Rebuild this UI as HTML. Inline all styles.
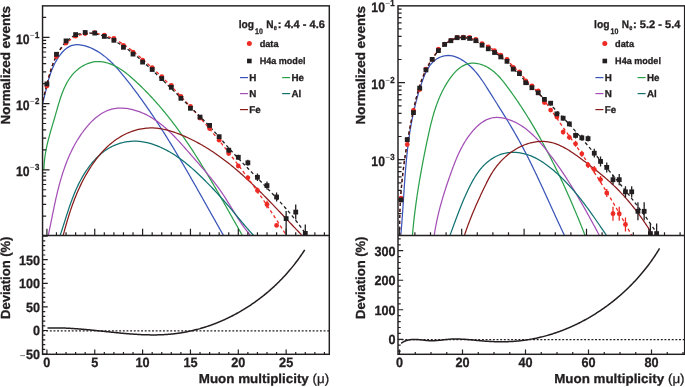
<!DOCTYPE html>
<html><head><meta charset="utf-8"><title>Muon multiplicity</title>
<style>
html,body{margin:0;padding:0;background:#fff;}
svg{display:block;text-rendering:geometricPrecision;font-family:"Liberation Sans",sans-serif;font-weight:bold;fill:#231f20;}
text{stroke:#231f20;stroke-width:0.3px;}
text.mn{stroke:none;font-weight:normal;fill:#4a4647;}
</style></head><body>
<svg width="685" height="387" viewBox="0 0 685 387">
<rect width="685" height="387" fill="#fff"/>
<clipPath id="cuL"><rect x="42.55" y="5.85" width="286.75" height="229.71"/></clipPath>
<g clip-path="url(#cuL)">
<path d="M42.60,103.51 L43.04,101.88 L43.47,100.26 L43.88,98.65 L44.28,97.06 L44.66,95.47 L45.04,93.90 L45.41,92.34 L45.78,90.79 L46.14,89.25 L46.51,87.72 L46.88,86.19 L47.26,84.68 L47.64,83.17 L48.04,81.67 L48.44,80.17 L48.87,78.68 L49.31,77.20 L49.77,75.72 L50.26,74.25 L50.77,72.78 L51.31,71.31 L51.88,69.85 L52.48,68.39 L53.12,66.93 L53.79,65.47 L54.50,64.02 L55.26,62.56 L56.06,61.11 L56.91,59.65 L57.81,58.21 L58.75,56.78 L59.74,55.39 L60.77,54.03 L61.85,52.73 L62.98,51.48 L64.15,50.32 L65.36,49.23 L66.61,48.24 L67.91,47.36 L69.25,46.59 L70.63,45.95 L72.05,45.44 L73.51,45.08 L74.99,44.84 L76.51,44.72 L78.05,44.72 L79.60,44.82 L81.16,45.02 L82.72,45.31 L84.29,45.67 L85.85,46.11 L87.39,46.62 L88.92,47.18 L90.42,47.78 L91.90,48.43 L93.35,49.12 L94.77,49.85 L96.17,50.61 L97.54,51.41 L98.89,52.24 L100.22,53.10 L101.52,54.00 L102.80,54.93 L104.06,55.88 L105.31,56.87 L106.53,57.88 L107.73,58.91 L108.92,59.97 L110.08,61.05 L111.24,62.16 L112.37,63.28 L113.50,64.42 L114.60,65.58 L115.70,66.75 L116.78,67.94 L117.86,69.15 L118.92,70.36 L119.97,71.59 L121.01,72.82 L122.05,74.07 L123.07,75.32 L124.09,76.57 L125.11,77.83 L126.11,79.10 L127.12,80.37 L128.12,81.64 L129.11,82.91 L130.10,84.18 L131.09,85.46 L132.07,86.74 L133.05,88.02 L134.02,89.30 L134.99,90.59 L135.95,91.88 L136.91,93.17 L137.87,94.46 L138.82,95.76 L139.76,97.06 L140.71,98.36 L141.65,99.66 L142.58,100.96 L143.51,102.27 L144.44,103.58 L145.36,104.89 L146.28,106.20 L147.20,107.52 L148.11,108.83 L149.02,110.15 L149.93,111.47 L150.83,112.80 L151.73,114.12 L152.62,115.45 L153.52,116.77 L154.40,118.10 L155.29,119.44 L156.17,120.77 L157.05,122.11 L157.93,123.44 L158.80,124.78 L159.67,126.12 L160.54,127.47 L161.40,128.81 L162.26,130.16 L163.12,131.50 L163.98,132.85 L164.83,134.20 L165.68,135.55 L166.53,136.91 L167.38,138.26 L168.22,139.62 L169.06,140.98 L169.90,142.34 L170.74,143.70 L171.57,145.06 L172.40,146.42 L173.23,147.79 L174.06,149.15 L174.88,150.52 L175.71,151.89 L176.53,153.26 L177.35,154.63 L178.17,156.00 L178.98,157.37 L179.80,158.75 L180.61,160.12 L181.42,161.50 L182.23,162.87 L183.04,164.25 L183.85,165.63 L184.65,167.01 L185.45,168.39 L186.26,169.78 L187.06,171.16 L187.86,172.54 L188.66,173.93 L189.45,175.31 L190.25,176.70 L191.05,178.09 L191.84,179.47 L192.63,180.86 L193.43,182.25 L194.22,183.64 L195.01,185.03 L195.80,186.42 L196.59,187.81 L197.38,189.21 L198.17,190.60 L198.96,191.99 L199.74,193.39 L200.53,194.78 L201.32,196.17 L202.10,197.57 L202.89,198.96 L203.68,200.36 L204.46,201.76 L205.25,203.15 L206.03,204.55 L206.82,205.95 L207.60,207.34 L208.39,208.74 L209.18,210.14 L209.96,211.54 L210.75,212.94 L211.54,214.33 L212.32,215.73 L213.11,217.13 L213.90,218.53 L214.69,219.93 L215.48,221.33 L216.27,222.72 L217.06,224.12 L217.85,225.52 L218.64,226.92 L219.43,228.32 L220.23,229.72 L221.02,231.11 L221.82,232.51 L222.61,233.91 L223.41,235.30" fill="none" stroke="#3a55b8" stroke-width="1.25"/>
<path d="M43.90,169.86 L43.96,167.93 L44.05,166.02 L44.17,164.14 L44.32,162.27 L44.50,160.42 L44.70,158.59 L44.94,156.78 L45.19,154.98 L45.48,153.20 L45.78,151.42 L46.11,149.67 L46.46,147.92 L46.83,146.18 L47.21,144.45 L47.61,142.72 L48.03,141.01 L48.46,139.29 L48.91,137.59 L49.37,135.88 L49.84,134.18 L50.32,132.47 L50.81,130.77 L51.30,129.06 L51.80,127.35 L52.31,125.63 L52.82,123.91 L53.33,122.18 L53.85,120.45 L54.36,118.70 L54.88,116.95 L55.39,115.18 L55.90,113.41 L56.41,111.62 L56.92,109.82 L57.43,108.02 L57.95,106.21 L58.48,104.41 L59.02,102.61 L59.57,100.81 L60.15,99.02 L60.73,97.23 L61.35,95.46 L61.98,93.71 L62.64,91.97 L63.33,90.25 L64.06,88.56 L64.81,86.89 L65.61,85.24 L66.44,83.63 L67.31,82.04 L68.23,80.50 L69.20,78.98 L70.21,77.51 L71.28,76.08 L72.40,74.70 L73.58,73.36 L74.81,72.07 L76.11,70.84 L77.47,69.66 L78.88,68.54 L80.35,67.49 L81.87,66.50 L83.43,65.59 L85.03,64.76 L86.67,64.02 L88.33,63.36 L90.03,62.80 L91.75,62.33 L93.49,61.97 L95.24,61.72 L97.01,61.58 L98.78,61.56 L100.56,61.65 L102.33,61.85 L104.10,62.15 L105.85,62.54 L107.59,63.02 L109.30,63.57 L111.00,64.20 L112.66,64.90 L114.29,65.65 L115.90,66.46 L117.49,67.33 L119.05,68.25 L120.58,69.21 L122.10,70.22 L123.59,71.27 L125.07,72.35 L126.53,73.47 L127.97,74.62 L129.39,75.80 L130.80,77.00 L132.19,78.21 L133.57,79.45 L134.94,80.70 L136.30,81.95 L137.65,83.21 L138.98,84.48 L140.31,85.76 L141.63,87.04 L142.94,88.34 L144.24,89.63 L145.53,90.94 L146.81,92.25 L148.08,93.56 L149.34,94.89 L150.59,96.22 L151.84,97.55 L153.07,98.90 L154.30,100.24 L155.52,101.60 L156.73,102.96 L157.93,104.33 L159.12,105.70 L160.31,107.08 L161.48,108.46 L162.65,109.85 L163.81,111.24 L164.97,112.64 L166.11,114.05 L167.25,115.46 L168.38,116.88 L169.51,118.30 L170.63,119.72 L171.74,121.16 L172.84,122.59 L173.94,124.03 L175.03,125.48 L176.11,126.93 L177.18,128.38 L178.26,129.84 L179.32,131.30 L180.38,132.77 L181.43,134.24 L182.48,135.72 L183.52,137.20 L184.55,138.69 L185.58,140.17 L186.60,141.67 L187.62,143.16 L188.64,144.66 L189.64,146.17 L190.65,147.67 L191.65,149.18 L192.64,150.70 L193.63,152.21 L194.61,153.73 L195.59,155.26 L196.57,156.78 L197.54,158.31 L198.51,159.85 L199.47,161.38 L200.43,162.92 L201.38,164.46 L202.33,166.00 L203.28,167.55 L204.23,169.10 L205.17,170.65 L206.11,172.20 L207.04,173.76 L207.98,175.31 L208.90,176.87 L209.83,178.43 L210.75,180.00 L211.68,181.56 L212.60,183.13 L213.51,184.70 L214.43,186.27 L215.34,187.84 L216.25,189.41 L217.16,190.99 L218.06,192.56 L218.97,194.14 L219.87,195.72 L220.77,197.30 L221.67,198.88 L222.57,200.46 L223.47,202.04 L224.37,203.62 L225.27,205.20 L226.16,206.79 L227.06,208.37 L227.95,209.96 L228.84,211.54 L229.74,213.13 L230.63,214.71 L231.52,216.30 L232.42,217.88 L233.31,219.47 L234.21,221.05 L235.10,222.64 L235.99,224.22 L236.89,225.81 L237.78,227.39 L238.68,228.98 L239.58,230.56 L240.48,232.14 L241.38,233.72 L242.28,235.30" fill="none" stroke="#2ba04a" stroke-width="1.25"/>
<path d="M48.31,235.30 L48.66,233.64 L49.01,231.97 L49.36,230.30 L49.70,228.63 L50.04,226.96 L50.38,225.28 L50.72,223.59 L51.06,221.91 L51.40,220.22 L51.74,218.54 L52.08,216.85 L52.42,215.15 L52.76,213.46 L53.11,211.77 L53.46,210.07 L53.81,208.38 L54.16,206.68 L54.52,204.99 L54.89,203.29 L55.25,201.60 L55.63,199.90 L56.01,198.21 L56.39,196.52 L56.79,194.83 L57.19,193.14 L57.59,191.46 L58.01,189.77 L58.43,188.09 L58.87,186.41 L59.31,184.74 L59.76,183.07 L60.23,181.40 L60.70,179.73 L61.19,178.07 L61.69,176.41 L62.20,174.76 L62.72,173.11 L63.25,171.47 L63.80,169.83 L64.37,168.20 L64.94,166.58 L65.54,164.96 L66.15,163.34 L66.77,161.73 L67.41,160.13 L68.07,158.54 L68.74,156.95 L69.44,155.37 L70.15,153.80 L70.88,152.24 L71.63,150.69 L72.39,149.14 L73.18,147.60 L73.99,146.07 L74.82,144.55 L75.67,143.04 L76.54,141.54 L77.44,140.05 L78.36,138.57 L79.30,137.10 L80.26,135.64 L81.25,134.19 L82.27,132.75 L83.31,131.33 L84.37,129.92 L85.46,128.52 L86.57,127.15 L87.72,125.79 L88.88,124.46 L90.07,123.17 L91.29,121.90 L92.53,120.67 L93.80,119.48 L95.10,118.33 L96.42,117.22 L97.77,116.16 L99.15,115.15 L100.55,114.20 L101.98,113.30 L103.43,112.47 L104.92,111.69 L106.42,110.99 L107.96,110.35 L109.52,109.78 L111.11,109.29 L112.73,108.88 L114.38,108.55 L116.05,108.31 L117.75,108.15 L119.47,108.07 L121.20,108.06 L122.94,108.13 L124.69,108.27 L126.44,108.47 L128.18,108.73 L129.91,109.04 L131.63,109.41 L133.34,109.83 L135.02,110.29 L136.67,110.79 L138.31,111.34 L139.92,111.93 L141.51,112.56 L143.09,113.23 L144.64,113.94 L146.17,114.68 L147.68,115.46 L149.18,116.28 L150.66,117.13 L152.12,118.01 L153.56,118.92 L154.98,119.86 L156.39,120.83 L157.79,121.83 L159.16,122.85 L160.53,123.90 L161.88,124.98 L163.21,126.08 L164.53,127.20 L165.84,128.34 L167.14,129.50 L168.42,130.68 L169.70,131.87 L170.96,133.09 L172.21,134.31 L173.45,135.56 L174.68,136.81 L175.90,138.08 L177.12,139.36 L178.32,140.64 L179.52,141.94 L180.71,143.24 L181.90,144.55 L183.07,145.86 L184.25,147.18 L185.41,148.50 L186.57,149.82 L187.73,151.14 L188.88,152.46 L190.03,153.78 L191.18,155.09 L192.33,156.41 L193.47,157.71 L194.61,159.01 L195.74,160.31 L196.88,161.61 L198.01,162.90 L199.14,164.19 L200.26,165.48 L201.38,166.77 L202.49,168.06 L203.60,169.35 L204.71,170.64 L205.81,171.93 L206.90,173.23 L207.99,174.53 L209.07,175.84 L210.15,177.15 L211.21,178.47 L212.28,179.79 L213.33,181.12 L214.38,182.46 L215.41,183.81 L216.44,185.16 L217.46,186.53 L218.48,187.91 L219.48,189.29 L220.47,190.70 L221.46,192.11 L222.43,193.54 L223.39,194.98 L224.35,196.43 L225.29,197.90 L226.23,199.37 L227.16,200.85 L228.09,202.34 L229.02,203.84 L229.94,205.34 L230.86,206.84 L231.77,208.34 L232.69,209.85 L233.61,211.35 L234.54,212.85 L235.46,214.35 L236.39,215.83 L237.33,217.32 L238.27,218.79 L239.22,220.26 L240.18,221.71 L241.15,223.15 L242.13,224.57 L243.12,225.98 L244.13,227.38 L245.15,228.75 L246.18,230.11 L247.23,231.44 L248.30,232.76 L249.39,234.04 L250.49,235.31" fill="none" stroke="#a44fb6" stroke-width="1.25"/>
<path d="M60.20,235.32 L60.64,233.98 L61.09,232.64 L61.53,231.30 L61.96,229.95 L62.40,228.60 L62.83,227.25 L63.26,225.90 L63.69,224.55 L64.12,223.19 L64.55,221.84 L64.98,220.48 L65.41,219.12 L65.84,217.76 L66.27,216.40 L66.71,215.05 L67.14,213.69 L67.58,212.33 L68.03,210.97 L68.48,209.61 L68.93,208.26 L69.39,206.91 L69.86,205.55 L70.33,204.20 L70.81,202.85 L71.29,201.51 L71.79,200.16 L72.29,198.82 L72.80,197.48 L73.32,196.15 L73.85,194.82 L74.39,193.49 L74.94,192.16 L75.50,190.84 L76.07,189.53 L76.66,188.22 L77.26,186.91 L77.87,185.61 L78.49,184.31 L79.13,183.02 L79.79,181.73 L80.46,180.45 L81.14,179.18 L81.85,177.91 L82.56,176.65 L83.30,175.40 L84.05,174.15 L84.83,172.91 L85.62,171.68 L86.42,170.46 L87.25,169.25 L88.09,168.05 L88.96,166.86 L89.84,165.69 L90.73,164.53 L91.65,163.39 L92.58,162.27 L93.54,161.17 L94.51,160.08 L95.50,159.01 L96.50,157.97 L97.53,156.95 L98.57,155.95 L99.63,154.98 L100.71,154.03 L101.81,153.11 L102.93,152.22 L104.06,151.36 L105.21,150.53 L106.38,149.73 L107.57,148.96 L108.78,148.22 L110.00,147.52 L111.24,146.86 L112.50,146.23 L113.78,145.64 L115.07,145.08 L116.38,144.56 L117.70,144.08 L119.04,143.63 L120.38,143.22 L121.74,142.85 L123.11,142.51 L124.48,142.22 L125.87,141.96 L127.26,141.73 L128.66,141.55 L130.06,141.40 L131.47,141.29 L132.88,141.22 L134.29,141.19 L135.70,141.19 L137.11,141.23 L138.52,141.32 L139.94,141.44 L141.34,141.59 L142.75,141.79 L144.15,142.03 L145.54,142.29 L146.94,142.60 L148.32,142.93 L149.70,143.30 L151.08,143.70 L152.44,144.13 L153.80,144.58 L155.15,145.06 L156.50,145.57 L157.83,146.10 L159.16,146.65 L160.48,147.23 L161.79,147.82 L163.08,148.44 L164.37,149.07 L165.65,149.72 L166.91,150.39 L168.17,151.08 L169.42,151.79 L170.66,152.51 L171.89,153.25 L173.11,154.01 L174.33,154.78 L175.53,155.57 L176.73,156.37 L177.92,157.18 L179.09,158.01 L180.27,158.85 L181.43,159.71 L182.58,160.57 L183.73,161.45 L184.87,162.34 L186.00,163.24 L187.13,164.15 L188.24,165.08 L189.35,166.01 L190.46,166.95 L191.55,167.90 L192.64,168.85 L193.73,169.82 L194.80,170.79 L195.87,171.77 L196.94,172.75 L197.99,173.74 L199.05,174.74 L200.09,175.74 L201.13,176.74 L202.17,177.75 L203.20,178.76 L204.22,179.78 L205.24,180.80 L206.25,181.82 L207.26,182.84 L208.26,183.86 L209.26,184.89 L210.26,185.91 L211.25,186.94 L212.23,187.97 L213.21,189.00 L214.19,190.03 L215.16,191.06 L216.13,192.10 L217.09,193.14 L218.05,194.18 L219.01,195.23 L219.96,196.28 L220.90,197.33 L221.85,198.38 L222.79,199.44 L223.72,200.51 L224.66,201.57 L225.59,202.64 L226.51,203.72 L227.44,204.79 L228.36,205.87 L229.28,206.95 L230.20,208.04 L231.11,209.13 L232.03,210.22 L232.94,211.31 L233.86,212.41 L234.77,213.50 L235.68,214.60 L236.60,215.70 L237.51,216.80 L238.43,217.90 L239.35,219.00 L240.26,220.11 L241.18,221.21 L242.11,222.31 L243.03,223.41 L243.96,224.51 L244.90,225.60 L245.83,226.70 L246.77,227.79 L247.72,228.88 L248.66,229.97 L249.62,231.06 L250.58,232.14 L251.54,233.22 L252.51,234.29 L253.49,235.36" fill="none" stroke="#127272" stroke-width="1.25"/>
<path d="M63.21,235.37 L63.65,233.71 L64.08,232.06 L64.53,230.41 L64.97,228.76 L65.43,227.12 L65.89,225.49 L66.35,223.85 L66.82,222.22 L67.30,220.60 L67.79,218.97 L68.28,217.36 L68.78,215.74 L69.29,214.13 L69.81,212.53 L70.33,210.93 L70.87,209.33 L71.42,207.74 L71.97,206.15 L72.54,204.56 L73.11,202.98 L73.70,201.41 L74.30,199.83 L74.91,198.27 L75.53,196.70 L76.17,195.15 L76.82,193.59 L77.48,192.04 L78.16,190.50 L78.85,188.96 L79.55,187.42 L80.27,185.89 L81.00,184.37 L81.75,182.84 L82.51,181.33 L83.29,179.82 L84.09,178.31 L84.90,176.81 L85.73,175.31 L86.58,173.82 L87.45,172.33 L88.33,170.85 L89.23,169.38 L90.16,167.92 L91.09,166.47 L92.05,165.02 L93.03,163.59 L94.02,162.18 L95.04,160.77 L96.07,159.38 L97.13,158.01 L98.20,156.66 L99.30,155.32 L100.41,154.00 L101.55,152.71 L102.70,151.43 L103.88,150.18 L105.08,148.95 L106.29,147.74 L107.53,146.56 L108.80,145.41 L110.08,144.28 L111.39,143.18 L112.71,142.12 L114.06,141.08 L115.44,140.07 L116.83,139.10 L118.25,138.16 L119.69,137.26 L121.15,136.39 L122.64,135.56 L124.14,134.77 L125.66,134.01 L127.20,133.30 L128.76,132.62 L130.33,131.99 L131.92,131.40 L133.51,130.85 L135.13,130.35 L136.75,129.89 L138.38,129.48 L140.02,129.11 L141.66,128.80 L143.31,128.53 L144.97,128.31 L146.63,128.14 L148.30,128.02 L149.96,127.96 L151.63,127.95 L153.29,127.99 L154.96,128.08 L156.62,128.23 L158.29,128.41 L159.95,128.65 L161.60,128.92 L163.26,129.24 L164.91,129.59 L166.56,129.98 L168.20,130.41 L169.84,130.87 L171.47,131.36 L173.09,131.88 L174.71,132.42 L176.33,132.99 L177.93,133.59 L179.53,134.20 L181.12,134.83 L182.70,135.49 L184.27,136.15 L185.83,136.83 L187.38,137.53 L188.92,138.25 L190.46,138.98 L191.98,139.72 L193.50,140.48 L195.01,141.25 L196.51,142.04 L198.00,142.84 L199.49,143.66 L200.96,144.48 L202.43,145.33 L203.89,146.18 L205.34,147.05 L206.79,147.93 L208.23,148.83 L209.66,149.73 L211.08,150.65 L212.49,151.58 L213.90,152.52 L215.30,153.47 L216.70,154.44 L218.08,155.41 L219.46,156.40 L220.84,157.39 L222.21,158.40 L223.57,159.41 L224.92,160.44 L226.27,161.47 L227.61,162.52 L228.94,163.57 L230.27,164.63 L231.60,165.70 L232.92,166.78 L234.23,167.87 L235.53,168.97 L236.83,170.07 L238.13,171.18 L239.42,172.30 L240.70,173.42 L241.98,174.56 L243.26,175.69 L244.53,176.84 L245.79,177.99 L247.05,179.15 L248.31,180.31 L249.56,181.48 L250.81,182.65 L252.05,183.83 L253.29,185.01 L254.52,186.20 L255.75,187.39 L256.97,188.59 L258.20,189.79 L259.41,190.99 L260.63,192.20 L261.84,193.41 L263.04,194.62 L264.25,195.84 L265.45,197.05 L266.65,198.28 L267.84,199.50 L269.03,200.72 L270.22,201.95 L271.40,203.18 L272.59,204.41 L273.77,205.64 L274.94,206.87 L276.12,208.10 L277.29,209.33 L278.46,210.56 L279.63,211.79 L280.79,213.02 L281.96,214.25 L283.12,215.48 L284.28,216.71 L285.44,217.93 L286.60,219.16 L287.75,220.38 L288.91,221.60 L290.06,222.82 L291.21,224.04 L292.36,225.25 L293.51,226.47 L294.66,227.67 L295.81,228.88 L296.96,230.08 L298.10,231.28 L299.25,232.47 L300.40,233.66 L301.54,234.84" fill="none" stroke="#8a1c1c" stroke-width="1.25"/>
<path d="M42.66,100.69 L43.16,99.04 L43.65,97.36 L44.12,95.64 L44.57,93.89 L45.02,92.11 L45.46,90.30 L45.89,88.47 L46.33,86.63 L46.77,84.76 L47.21,82.89 L47.67,81.00 L48.14,79.10 L48.62,77.20 L49.13,75.30 L49.66,73.40 L50.21,71.50 L50.80,69.61 L51.41,67.73 L52.07,65.86 L52.76,64.01 L53.49,62.18 L54.27,60.37 L55.09,58.58 L55.95,56.83 L56.87,55.12 L57.84,53.44 L58.85,51.81 L59.93,50.22 L61.05,48.69 L62.24,47.21 L63.48,45.78 L64.78,44.42 L66.13,43.13 L67.53,41.90 L68.97,40.74 L70.47,39.66 L72.01,38.65 L73.59,37.73 L75.22,36.89 L76.89,36.14 L78.59,35.48 L80.32,34.91 L82.09,34.42 L83.88,34.02 L85.68,33.71 L87.51,33.49 L89.35,33.35 L91.20,33.30 L93.05,33.33 L94.91,33.45 L96.77,33.65 L98.62,33.94 L100.46,34.29 L102.30,34.72 L104.12,35.22 L105.94,35.78 L107.74,36.41 L109.53,37.08 L111.29,37.82 L113.04,38.60 L114.77,39.42 L116.47,40.29 L118.15,41.20 L119.82,42.15 L121.46,43.13 L123.09,44.15 L124.70,45.20 L126.29,46.28 L127.87,47.39 L129.43,48.52 L130.97,49.68 L132.51,50.86 L134.03,52.06 L135.53,53.27 L137.03,54.50 L138.52,55.74 L139.99,57.00 L141.46,58.26 L142.92,59.53 L144.38,60.80 L145.82,62.08 L147.26,63.36 L148.69,64.65 L150.12,65.94 L151.54,67.23 L152.95,68.53 L154.36,69.83 L155.76,71.14 L157.15,72.45 L158.54,73.76 L159.92,75.08 L161.30,76.40 L162.67,77.73 L164.03,79.06 L165.39,80.40 L166.74,81.73 L168.09,83.08 L169.43,84.42 L170.77,85.77 L172.10,87.13 L173.42,88.49 L174.74,89.85 L176.06,91.21 L177.37,92.58 L178.68,93.96 L179.98,95.33 L181.28,96.71 L182.57,98.10 L183.86,99.48 L185.14,100.88 L186.42,102.27 L187.69,103.67 L188.96,105.07 L190.23,106.48 L191.49,107.89 L192.75,109.30 L194.01,110.71 L195.26,112.13 L196.51,113.56 L197.75,114.98 L199.00,116.41 L200.23,117.85 L201.47,119.28 L202.70,120.72 L203.93,122.17 L205.16,123.61 L206.38,125.06 L207.60,126.52 L208.82,127.97 L210.03,129.43 L211.25,130.90 L212.46,132.36 L213.67,133.83 L214.87,135.30 L216.08,136.78 L217.28,138.26 L218.48,139.74 L219.68,141.23 L220.87,142.71 L222.07,144.20 L223.26,145.70 L224.45,147.19 L225.64,148.69 L226.82,150.20 L228.01,151.70 L229.19,153.21 L230.37,154.72 L231.54,156.23 L232.72,157.75 L233.89,159.26 L235.05,160.78 L236.22,162.31 L237.38,163.83 L238.54,165.36 L239.69,166.89 L240.84,168.42 L241.99,169.95 L243.13,171.49 L244.27,173.03 L245.41,174.57 L246.54,176.11 L247.67,177.65 L248.79,179.20 L249.91,180.74 L251.03,182.29 L252.14,183.84 L253.25,185.39 L254.35,186.95 L255.45,188.50 L256.54,190.06 L257.63,191.62 L258.72,193.18 L259.79,194.74 L260.87,196.30 L261.94,197.87 L263.01,199.43 L264.07,201.00 L265.13,202.57 L266.18,204.14 L267.24,205.71 L268.28,207.29 L269.33,208.87 L270.37,210.45 L271.42,212.03 L272.45,213.62 L273.49,215.21 L274.52,216.80 L275.56,218.39 L276.59,219.99 L277.62,221.58 L278.64,223.19 L279.67,224.79 L280.70,226.40 L281.72,228.01 L282.75,229.62 L283.77,231.24 L284.79,232.86 L285.82,234.49 L286.84,236.11" fill="none" stroke="#ee2a24" stroke-width="1.3" stroke-dasharray="3.3,2.7"/>
<path d="M42.46,100.76 L43.04,98.97 L43.60,97.17 L44.13,95.36 L44.65,93.54 L45.15,91.70 L45.64,89.85 L46.12,88.00 L46.61,86.13 L47.09,84.26 L47.57,82.37 L48.06,80.49 L48.55,78.59 L49.06,76.69 L49.59,74.79 L50.13,72.88 L50.70,70.97 L51.29,69.05 L51.91,67.14 L52.56,65.22 L53.25,63.31 L53.97,61.41 L54.74,59.52 L55.55,57.65 L56.40,55.81 L57.31,53.99 L58.27,52.21 L59.29,50.47 L60.37,48.78 L61.51,47.14 L62.71,45.55 L63.97,44.03 L65.29,42.58 L66.66,41.21 L68.09,39.92 L69.56,38.72 L71.09,37.63 L72.65,36.63 L74.26,35.75 L75.92,34.99 L77.61,34.35 L79.33,33.84 L81.09,33.44 L82.88,33.15 L84.69,32.98 L86.52,32.90 L88.38,32.93 L90.25,33.05 L92.13,33.26 L94.03,33.55 L95.92,33.92 L97.83,34.37 L99.73,34.90 L101.63,35.48 L103.52,36.13 L105.41,36.84 L107.28,37.60 L109.13,38.40 L110.97,39.25 L112.78,40.14 L114.57,41.06 L116.33,42.02 L118.06,43.00 L119.77,44.01 L121.46,45.05 L123.12,46.12 L124.77,47.21 L126.39,48.32 L127.99,49.46 L129.58,50.62 L131.14,51.80 L132.69,53.00 L134.22,54.21 L135.74,55.45 L137.25,56.69 L138.74,57.96 L140.22,59.23 L141.69,60.52 L143.15,61.82 L144.60,63.12 L146.05,64.44 L147.48,65.76 L148.92,67.09 L150.34,68.42 L151.76,69.76 L153.18,71.09 L154.60,72.43 L156.02,73.78 L157.43,75.12 L158.84,76.46 L160.25,77.81 L161.65,79.16 L163.06,80.51 L164.46,81.86 L165.86,83.21 L167.26,84.57 L168.66,85.92 L170.06,87.28 L171.46,88.64 L172.85,90.00 L174.25,91.36 L175.64,92.72 L177.04,94.08 L178.43,95.44 L179.82,96.80 L181.22,98.16 L182.61,99.53 L184.01,100.89 L185.40,102.26 L186.80,103.62 L188.19,104.98 L189.59,106.35 L190.99,107.71 L192.39,109.08 L193.79,110.44 L195.19,111.81 L196.58,113.18 L197.98,114.55 L199.37,115.93 L200.75,117.31 L202.14,118.69 L203.51,120.08 L204.88,121.48 L206.24,122.88 L207.59,124.30 L208.93,125.72 L210.26,127.15 L211.58,128.58 L212.90,130.03 L214.20,131.48 L215.50,132.94 L216.79,134.40 L218.08,135.87 L219.37,137.34 L220.66,138.81 L221.94,140.28 L223.23,141.75 L224.51,143.22 L225.80,144.68 L227.09,146.15 L228.39,147.60 L229.70,149.06 L231.01,150.50 L232.33,151.95 L233.65,153.38 L234.98,154.82 L236.31,156.25 L237.65,157.67 L238.99,159.09 L240.34,160.51 L241.69,161.92 L243.04,163.33 L244.40,164.74 L245.75,166.15 L247.11,167.55 L248.48,168.95 L249.84,170.36 L251.21,171.76 L252.57,173.16 L253.94,174.55 L255.31,175.95 L256.68,177.35 L258.04,178.75 L259.41,180.15 L260.78,181.55 L262.14,182.95 L263.50,184.35 L264.86,185.76 L266.22,187.17 L267.58,188.58 L268.93,189.99 L270.28,191.40 L271.62,192.82 L272.96,194.24 L274.30,195.67 L275.63,197.10 L276.96,198.53 L278.28,199.97 L279.59,201.41 L280.90,202.86 L282.21,204.32 L283.50,205.78 L284.79,207.25 L286.07,208.72 L287.35,210.20 L288.61,211.69 L289.87,213.18 L291.12,214.68 L292.36,216.19 L293.59,217.71 L294.81,219.24 L296.02,220.77 L297.22,222.32 L298.40,223.87 L299.58,225.43 L300.75,227.01 L301.90,228.59 L303.04,230.19 L304.17,231.79 L305.29,233.41" fill="none" stroke="#231f20" stroke-width="1.3" stroke-dasharray="3.3,2.7"/>
<line x1="238.30" x2="238.30" y1="164.00" y2="168.00" stroke="#ee2a24" stroke-width="1.3"/>
<line x1="247.87" x2="247.87" y1="175.30" y2="180.30" stroke="#ee2a24" stroke-width="1.3"/>
<line x1="257.44" x2="257.44" y1="187.40" y2="193.40" stroke="#ee2a24" stroke-width="1.3"/>
<line x1="267.01" x2="267.01" y1="200.70" y2="208.30" stroke="#ee2a24" stroke-width="1.3"/>
<circle cx="46.90" cy="86.00" r="2.4" fill="#ee2a24"/>
<circle cx="56.47" cy="56.50" r="2.4" fill="#ee2a24"/>
<circle cx="66.04" cy="43.00" r="2.4" fill="#ee2a24"/>
<circle cx="75.61" cy="36.20" r="2.4" fill="#ee2a24"/>
<circle cx="85.18" cy="33.50" r="2.4" fill="#ee2a24"/>
<circle cx="94.75" cy="32.60" r="2.4" fill="#ee2a24"/>
<circle cx="104.32" cy="35.20" r="2.4" fill="#ee2a24"/>
<circle cx="113.89" cy="38.50" r="2.4" fill="#ee2a24"/>
<circle cx="123.46" cy="45.30" r="2.4" fill="#ee2a24"/>
<circle cx="133.03" cy="52.10" r="2.4" fill="#ee2a24"/>
<circle cx="142.60" cy="60.10" r="2.4" fill="#ee2a24"/>
<circle cx="152.17" cy="67.60" r="2.4" fill="#ee2a24"/>
<circle cx="161.74" cy="76.70" r="2.4" fill="#ee2a24"/>
<circle cx="171.31" cy="85.40" r="2.4" fill="#ee2a24"/>
<circle cx="180.88" cy="96.30" r="2.4" fill="#ee2a24"/>
<circle cx="190.45" cy="106.30" r="2.4" fill="#ee2a24"/>
<circle cx="200.02" cy="118.00" r="2.4" fill="#ee2a24"/>
<circle cx="209.59" cy="128.60" r="2.4" fill="#ee2a24"/>
<circle cx="219.16" cy="140.20" r="2.4" fill="#ee2a24"/>
<circle cx="228.73" cy="153.50" r="2.4" fill="#ee2a24"/>
<circle cx="238.30" cy="166.00" r="2.4" fill="#ee2a24"/>
<circle cx="247.87" cy="177.80" r="2.4" fill="#ee2a24"/>
<circle cx="257.44" cy="190.40" r="2.4" fill="#ee2a24"/>
<circle cx="267.01" cy="204.50" r="2.4" fill="#ee2a24"/>
<circle cx="276.58" cy="225.40" r="2.4" fill="#ee2a24"/>
<line x1="219.16" x2="219.16" y1="134.70" y2="138.70" stroke="#231f20" stroke-width="1.3"/>
<line x1="228.73" x2="228.73" y1="147.70" y2="152.70" stroke="#231f20" stroke-width="1.3"/>
<line x1="238.30" x2="238.30" y1="154.80" y2="159.80" stroke="#231f20" stroke-width="1.3"/>
<line x1="247.87" x2="247.87" y1="159.80" y2="165.80" stroke="#231f20" stroke-width="1.3"/>
<line x1="257.44" x2="257.44" y1="173.50" y2="181.10" stroke="#231f20" stroke-width="1.3"/>
<line x1="267.01" x2="267.01" y1="181.60" y2="189.60" stroke="#231f20" stroke-width="1.3"/>
<line x1="276.58" x2="276.58" y1="192.50" y2="201.50" stroke="#231f20" stroke-width="1.3"/>
<line x1="286.15" x2="286.15" y1="211.10" y2="238.60" stroke="#231f20" stroke-width="1.3"/>
<line x1="295.72" x2="295.72" y1="204.60" y2="219.60" stroke="#231f20" stroke-width="1.3"/>
<line x1="305.29" x2="305.29" y1="224.40" y2="242.40" stroke="#231f20" stroke-width="1.3"/>
<rect x="44.50" y="81.50" width="4.8" height="4.8" fill="#231f20"/>
<rect x="54.07" y="51.90" width="4.8" height="4.8" fill="#231f20"/>
<rect x="63.64" y="38.50" width="4.8" height="4.8" fill="#231f20"/>
<rect x="73.21" y="32.20" width="4.8" height="4.8" fill="#231f20"/>
<rect x="82.78" y="30.10" width="4.8" height="4.8" fill="#231f20"/>
<rect x="92.35" y="30.70" width="4.8" height="4.8" fill="#231f20"/>
<rect x="101.92" y="34.00" width="4.8" height="4.8" fill="#231f20"/>
<rect x="111.49" y="37.90" width="4.8" height="4.8" fill="#231f20"/>
<rect x="121.06" y="44.90" width="4.8" height="4.8" fill="#231f20"/>
<rect x="130.63" y="51.70" width="4.8" height="4.8" fill="#231f20"/>
<rect x="140.20" y="59.70" width="4.8" height="4.8" fill="#231f20"/>
<rect x="149.77" y="67.10" width="4.8" height="4.8" fill="#231f20"/>
<rect x="159.34" y="76.20" width="4.8" height="4.8" fill="#231f20"/>
<rect x="168.91" y="84.90" width="4.8" height="4.8" fill="#231f20"/>
<rect x="178.48" y="95.90" width="4.8" height="4.8" fill="#231f20"/>
<rect x="188.05" y="105.90" width="4.8" height="4.8" fill="#231f20"/>
<rect x="197.62" y="114.70" width="4.8" height="4.8" fill="#231f20"/>
<rect x="207.19" y="123.00" width="4.8" height="4.8" fill="#231f20"/>
<rect x="216.76" y="134.30" width="4.8" height="4.8" fill="#231f20"/>
<rect x="226.33" y="147.80" width="4.8" height="4.8" fill="#231f20"/>
<rect x="235.90" y="154.90" width="4.8" height="4.8" fill="#231f20"/>
<rect x="245.47" y="160.40" width="4.8" height="4.8" fill="#231f20"/>
<rect x="255.04" y="174.90" width="4.8" height="4.8" fill="#231f20"/>
<rect x="264.61" y="183.20" width="4.8" height="4.8" fill="#231f20"/>
<rect x="274.18" y="194.60" width="4.8" height="4.8" fill="#231f20"/>
<rect x="283.75" y="216.20" width="4.8" height="4.8" fill="#231f20"/>
<rect x="293.32" y="209.70" width="4.8" height="4.8" fill="#231f20"/>
<rect x="302.89" y="231.00" width="4.8" height="4.8" fill="#231f20"/>
</g>
<line x1="42.55" x2="329.3" y1="330.75" y2="330.75" stroke="#231f20" stroke-width="1.25" stroke-dasharray="1.9,1.75"/>
<path d="M47.46,328.09 L48.39,328.05 L49.33,328.02 L50.26,327.99 L51.20,327.97 L52.13,327.95 L53.07,327.94 L54.01,327.93 L54.95,327.92 L55.89,327.92 L56.83,327.92 L57.77,327.92 L58.71,327.93 L59.65,327.95 L60.60,327.97 L61.54,327.99 L62.49,328.01 L63.44,328.04 L64.38,328.07 L65.33,328.11 L66.28,328.15 L67.23,328.19 L68.18,328.23 L69.13,328.28 L70.08,328.33 L71.03,328.39 L71.99,328.44 L72.94,328.50 L73.90,328.56 L74.85,328.63 L75.81,328.69 L76.76,328.76 L77.72,328.84 L78.68,328.91 L79.63,328.99 L80.59,329.06 L81.55,329.14 L82.51,329.23 L83.47,329.31 L84.43,329.40 L85.39,329.48 L86.35,329.57 L87.32,329.66 L88.28,329.75 L89.24,329.85 L90.20,329.94 L91.17,330.04 L92.13,330.13 L93.10,330.23 L94.06,330.33 L95.03,330.43 L95.99,330.53 L96.96,330.63 L97.92,330.73 L98.89,330.83 L99.86,330.94 L100.82,331.04 L101.79,331.14 L102.76,331.25 L103.72,331.35 L104.69,331.45 L105.66,331.56 L106.63,331.66 L107.60,331.76 L108.56,331.87 L109.53,331.97 L110.50,332.07 L111.47,332.17 L112.44,332.27 L113.41,332.37 L114.38,332.47 L115.35,332.57 L116.32,332.67 L117.28,332.77 L118.25,332.86 L119.22,332.96 L120.19,333.05 L121.16,333.14 L122.13,333.23 L123.10,333.32 L124.07,333.41 L125.04,333.50 L126.01,333.58 L126.97,333.66 L127.94,333.74 L128.91,333.82 L129.88,333.90 L130.85,333.97 L131.82,334.05 L132.78,334.12 L133.75,334.18 L134.72,334.25 L135.69,334.31 L136.65,334.37 L137.62,334.43 L138.59,334.48 L139.55,334.53 L140.52,334.58 L141.48,334.63 L142.45,334.67 L143.41,334.71 L144.38,334.74 L145.34,334.78 L146.30,334.81 L147.27,334.83 L148.23,334.85 L149.19,334.87 L150.15,334.89 L151.12,334.90 L152.08,334.90 L153.04,334.91 L154.00,334.91 L154.96,334.90 L155.92,334.89 L156.88,334.88 L157.83,334.86 L158.79,334.84 L159.75,334.81 L160.70,334.78 L161.66,334.74 L162.61,334.70 L163.57,334.65 L164.52,334.60 L165.48,334.54 L166.43,334.48 L167.38,334.41 L168.33,334.34 L169.28,334.26 L170.23,334.18 L171.18,334.09 L172.13,334.00 L173.08,333.90 L174.02,333.79 L174.97,333.68 L175.91,333.57 L176.86,333.44 L177.80,333.31 L178.74,333.18 L179.69,333.04 L180.63,332.90 L181.57,332.75 L182.50,332.59 L183.44,332.43 L184.38,332.26 L185.31,332.09 L186.25,331.91 L187.18,331.73 L188.11,331.54 L189.05,331.34 L189.98,331.14 L190.91,330.94 L191.83,330.73 L192.76,330.51 L193.69,330.29 L194.61,330.07 L195.53,329.83 L196.45,329.60 L197.37,329.35 L198.29,329.11 L199.21,328.85 L200.13,328.60 L201.04,328.33 L201.96,328.06 L202.87,327.79 L203.78,327.51 L204.69,327.23 L205.60,326.94 L206.50,326.65 L207.41,326.35 L208.31,326.04 L209.21,325.73 L210.11,325.42 L211.01,325.10 L211.91,324.77 L212.80,324.45 L213.70,324.11 L214.59,323.77 L215.48,323.43 L216.37,323.08 L217.25,322.73 L218.14,322.37 L219.02,322.00 L219.90,321.64 L220.78,321.26 L221.66,320.88 L222.53,320.50 L223.41,320.11 L224.28,319.72 L225.15,319.32 L226.02,318.92 L226.88,318.52 L227.74,318.10 L228.61,317.69 L229.47,317.27 L230.32,316.84 L231.18,316.41 L232.03,315.98 L232.88,315.54 L233.73,315.10 L234.58,314.65 L235.42,314.20 L236.27,313.74 L237.11,313.28 L237.95,312.81 L238.78,312.34 L239.62,311.87 L240.45,311.39 L241.28,310.90 L242.10,310.42 L242.93,309.92 L243.75,309.43 L244.57,308.93 L245.38,308.42 L246.20,307.91 L247.01,307.40 L247.82,306.88 L248.63,306.35 L249.43,305.83 L250.23,305.30 L251.03,304.76 L251.83,304.22 L252.62,303.68 L253.41,303.13 L254.20,302.58 L254.99,302.02 L255.77,301.46 L256.55,300.90 L257.33,300.33 L258.10,299.76 L258.88,299.18 L259.64,298.60 L260.41,298.02 L261.17,297.43 L261.94,296.84 L262.69,296.24 L263.45,295.64 L264.20,295.04 L264.95,294.43 L265.69,293.82 L266.44,293.20 L267.18,292.58 L267.91,291.96 L268.65,291.33 L269.38,290.70 L270.11,290.07 L270.83,289.43 L271.55,288.79 L272.27,288.14 L272.99,287.49 L273.70,286.84 L274.41,286.18 L275.11,285.52 L275.81,284.85 L276.51,284.19 L277.21,283.52 L277.90,282.84 L278.59,282.16 L279.27,281.48 L279.96,280.79 L280.63,280.10 L281.31,279.41 L281.98,278.72 L282.65,278.02 L283.31,277.31 L283.98,276.61 L284.63,275.90 L285.29,275.18 L285.94,274.47 L286.58,273.75 L287.23,273.02 L287.87,272.30 L288.50,271.57 L289.13,270.83 L289.76,270.10 L290.39,269.36 L291.01,268.61 L291.63,267.87 L292.24,267.12 L292.85,266.37 L293.46,265.61 L294.06,264.85 L294.66,264.09 L295.25,263.32 L295.84,262.55 L296.43,261.78 L297.01,261.01 L297.59,260.23 L298.16,259.45 L298.73,258.67 L299.30,257.88 L299.86,257.09 L300.42,256.30 L300.97,255.50 L301.52,254.70 L302.07,253.90 L302.61,253.10 L303.15,252.29 L303.68,251.48 L304.21,250.67 L304.73,249.85" fill="none" stroke="#231f20" stroke-width="1.5"/>
<rect x="42.55" y="5.85" width="286.75" height="348.45" fill="none" stroke="#231f20" stroke-width="1.45"/>
<line x1="42.55" x2="329.3" y1="235.56" y2="235.56" stroke="#231f20" stroke-width="1.45"/>
<path d="M46.90,235.56v-6.9M46.90,354.3v-4.8M56.47,235.56v-3.4M56.47,354.3v-2.3M66.04,235.56v-3.4M66.04,354.3v-2.3M75.61,235.56v-3.4M75.61,354.3v-2.3M85.18,235.56v-3.4M85.18,354.3v-2.3M94.75,235.56v-6.9M94.75,354.3v-4.8M104.32,235.56v-3.4M104.32,354.3v-2.3M113.89,235.56v-3.4M113.89,354.3v-2.3M123.46,235.56v-3.4M123.46,354.3v-2.3M133.03,235.56v-3.4M133.03,354.3v-2.3M142.60,235.56v-6.9M142.60,354.3v-4.8M152.17,235.56v-3.4M152.17,354.3v-2.3M161.74,235.56v-3.4M161.74,354.3v-2.3M171.31,235.56v-3.4M171.31,354.3v-2.3M180.88,235.56v-3.4M180.88,354.3v-2.3M190.45,235.56v-6.9M190.45,354.3v-4.8M200.02,235.56v-3.4M200.02,354.3v-2.3M209.59,235.56v-3.4M209.59,354.3v-2.3M219.16,235.56v-3.4M219.16,354.3v-2.3M228.73,235.56v-3.4M228.73,354.3v-2.3M238.30,235.56v-6.9M238.30,354.3v-4.8M247.87,235.56v-3.4M247.87,354.3v-2.3M257.44,235.56v-3.4M257.44,354.3v-2.3M267.01,235.56v-3.4M267.01,354.3v-2.3M276.58,235.56v-3.4M276.58,354.3v-2.3M286.15,235.56v-6.9M286.15,354.3v-4.8M295.72,235.56v-3.4M295.72,354.3v-2.3M305.29,235.56v-3.4M305.29,354.3v-2.3M314.86,235.56v-3.4M314.86,354.3v-2.3M324.43,235.56v-3.4M324.43,354.3v-2.3M42.55,216.11h3.6M42.55,204.44h3.6M42.55,196.16h3.6M42.55,189.74h3.6M42.55,184.50h3.6M42.55,180.06h3.6M42.55,176.22h3.6M42.55,172.83h3.6M42.55,169.80h7.0M42.55,149.86h3.6M42.55,138.19h3.6M42.55,129.91h3.6M42.55,123.49h3.6M42.55,118.25h3.6M42.55,113.81h3.6M42.55,109.97h3.6M42.55,106.58h3.6M42.55,103.55h7.0M42.55,83.61h3.6M42.55,71.94h3.6M42.55,63.66h3.6M42.55,57.24h3.6M42.55,52.00h3.6M42.55,47.56h3.6M42.55,43.72h3.6M42.55,40.33h3.6M42.55,37.30h7.0M42.55,17.36h3.6M42.55,354.10h5.2M42.55,349.38h2.7M42.55,344.66h2.7M42.55,339.94h2.7M42.55,335.22h2.7M42.55,330.50h5.2M42.55,325.78h2.7M42.55,321.06h2.7M42.55,316.34h2.7M42.55,311.62h2.7M42.55,306.90h5.2M42.55,302.18h2.7M42.55,297.46h2.7M42.55,292.74h2.7M42.55,288.02h2.7M42.55,283.30h5.2M42.55,278.58h2.7M42.55,273.86h2.7M42.55,269.14h2.7M42.55,264.42h2.7M42.55,259.70h5.2M42.55,254.98h2.7M42.55,250.26h2.7M42.55,245.54h2.7M42.55,240.82h2.7M42.55,236.10h5.2" stroke="#231f20" stroke-width="1.2" fill="none"/>
<text x="43.37" y="366.60" font-size="13.5" textLength="7.06" lengthAdjust="spacingAndGlyphs">0</text>
<text x="91.22" y="366.60" font-size="13.5" textLength="7.06" lengthAdjust="spacingAndGlyphs">5</text>
<text x="135.54" y="366.60" font-size="13.5" textLength="14.12" lengthAdjust="spacingAndGlyphs">10</text>
<text x="183.39" y="366.60" font-size="13.5" textLength="14.12" lengthAdjust="spacingAndGlyphs">15</text>
<text x="231.24" y="366.60" font-size="13.5" textLength="14.12" lengthAdjust="spacingAndGlyphs">20</text>
<text x="279.09" y="366.60" font-size="13.5" textLength="14.12" lengthAdjust="spacingAndGlyphs">25</text>
<text x="19.03" y="264.60" font-size="13.4" textLength="21.02" lengthAdjust="spacingAndGlyphs">150</text>
<text x="19.03" y="288.20" font-size="13.4" textLength="21.02" lengthAdjust="spacingAndGlyphs">100</text>
<text x="26.04" y="311.80" font-size="13.4" textLength="14.01" lengthAdjust="spacingAndGlyphs">50</text>
<text x="33.04" y="335.40" font-size="13.4" textLength="7.01" lengthAdjust="spacingAndGlyphs">0</text>
<text x="26.04" y="359.00" font-size="13.4" textLength="14.01" lengthAdjust="spacingAndGlyphs">50</text>
<text class="mn" x="19.85" y="359.00" font-size="9.8">−</text>
<text x="15.90" y="43.80" font-size="13.7" textLength="13.60" lengthAdjust="spacingAndGlyphs">10</text>
<text class="mn" x="29.80" y="37.80" font-size="8.3">−</text>
<text x="34.90" y="37.50" font-size="8.8" textLength="4.40" lengthAdjust="spacingAndGlyphs">1</text>
<text x="15.90" y="110.05" font-size="13.7" textLength="13.60" lengthAdjust="spacingAndGlyphs">10</text>
<text class="mn" x="29.80" y="104.05" font-size="8.3">−</text>
<text x="34.90" y="103.75" font-size="8.8" textLength="4.40" lengthAdjust="spacingAndGlyphs">2</text>
<text x="15.90" y="176.30" font-size="13.7" textLength="13.60" lengthAdjust="spacingAndGlyphs">10</text>
<text class="mn" x="29.80" y="170.30" font-size="8.3">−</text>
<text x="34.90" y="170.00" font-size="8.8" textLength="4.40" lengthAdjust="spacingAndGlyphs">3</text>
<text transform="translate(9.55,6.00) rotate(-90)" x="-118.40" y="0" font-size="13.1" textLength="118.40" lengthAdjust="spacingAndGlyphs">Normalized events</text>
<text transform="translate(9.55,236.60) rotate(-90)" x="-82.30" y="0" font-size="13.2" textLength="82.30" lengthAdjust="spacingAndGlyphs">Deviation (%)</text>
<text x="198.80" y="383.40" font-size="13.0" textLength="110.00" lengthAdjust="spacingAndGlyphs">Muon multiplicity</text>
<text x="312.60" y="383.40" font-size="13.0" font-weight="normal" textLength="16.60" lengthAdjust="spacingAndGlyphs">(μ)</text>
<text x="238.65" y="28.00" font-size="11" textLength="15.40" lengthAdjust="spacingAndGlyphs">log</text>
<text x="255.05" y="34.30" font-size="8" textLength="7.80" lengthAdjust="spacingAndGlyphs">10</text>
<text x="266.25" y="28.00" font-size="11" textLength="7.30" lengthAdjust="spacingAndGlyphs">N</text>
<text x="273.75" y="30.20" font-size="7.5" textLength="3.10" lengthAdjust="spacingAndGlyphs">e</text>
<text x="277.65" y="28.00" font-size="11" textLength="47.30" lengthAdjust="spacingAndGlyphs">: 4.4 - 4.6</text>
<circle cx="249.35" cy="43.6" r="2.5" fill="#ee2a24"/>
<text x="259.65" y="46.70" font-size="9.3" textLength="18.90" lengthAdjust="spacingAndGlyphs">data</text>
<rect x="247.05" y="58.70" width="4.6" height="4.6" fill="#231f20"/>
<text x="259.65" y="64.20" font-size="9.3" textLength="45.80" lengthAdjust="spacingAndGlyphs">H4a model</text>
<line x1="239.95" x2="247.95" y1="77.60" y2="77.60" stroke="#3a55b8" stroke-width="1.2"/>
<text x="249.25" y="81.05" font-size="9.8" textLength="7.08" lengthAdjust="spacingAndGlyphs">H</text>
<line x1="282.15" x2="290.15" y1="77.60" y2="77.60" stroke="#2ba04a" stroke-width="1.2"/>
<text x="291.45" y="81.05" font-size="9.8" textLength="12.53" lengthAdjust="spacingAndGlyphs">He</text>
<line x1="239.95" x2="247.95" y1="93.60" y2="93.60" stroke="#a44fb6" stroke-width="1.2"/>
<text x="249.25" y="97.05" font-size="9.8" textLength="7.08" lengthAdjust="spacingAndGlyphs">N</text>
<line x1="282.15" x2="290.15" y1="93.60" y2="93.60" stroke="#127272" stroke-width="1.2"/>
<text x="291.45" y="97.05" font-size="9.8" textLength="9.80" lengthAdjust="spacingAndGlyphs">Al</text>
<line x1="239.95" x2="247.95" y1="109.60" y2="109.60" stroke="#8a1c1c" stroke-width="1.2"/>
<text x="249.25" y="113.05" font-size="9.8" textLength="11.44" lengthAdjust="spacingAndGlyphs">Fe</text>
<clipPath id="cuR"><rect x="398.0" y="5.85" width="286.65" height="229.71"/></clipPath>
<g clip-path="url(#cuR)">
<path d="M400.72,236.11 L400.91,234.00 L401.10,231.88 L401.28,229.77 L401.45,227.67 L401.62,225.56 L401.79,223.45 L401.95,221.35 L402.11,219.25 L402.26,217.15 L402.41,215.06 L402.55,212.96 L402.70,210.87 L402.84,208.78 L402.98,206.69 L403.12,204.60 L403.25,202.52 L403.39,200.43 L403.53,198.35 L403.66,196.27 L403.80,194.19 L403.94,192.11 L404.07,190.03 L404.21,187.95 L404.36,185.88 L404.50,183.81 L404.64,181.73 L404.79,179.66 L404.94,177.59 L405.10,175.52 L405.26,173.46 L405.42,171.39 L405.59,169.32 L405.77,167.26 L405.94,165.20 L406.13,163.13 L406.32,161.07 L406.52,159.01 L406.72,156.95 L406.93,154.89 L407.15,152.83 L407.38,150.77 L407.61,148.71 L407.86,146.65 L408.11,144.60 L408.37,142.54 L408.65,140.48 L408.93,138.43 L409.22,136.37 L409.53,134.32 L409.84,132.26 L410.17,130.21 L410.51,128.15 L410.86,126.10 L411.22,124.04 L411.60,121.99 L411.99,119.93 L412.39,117.88 L412.81,115.82 L413.24,113.77 L413.69,111.71 L414.15,109.66 L414.63,107.60 L415.12,105.55 L415.63,103.49 L416.16,101.43 L416.71,99.38 L417.27,97.32 L417.85,95.26 L418.44,93.20 L419.06,91.14 L419.69,89.08 L420.35,87.02 L421.02,84.96 L421.72,82.90 L422.43,80.84 L423.18,78.79 L423.96,76.77 L424.79,74.78 L425.66,72.83 L426.59,70.93 L427.59,69.10 L428.66,67.33 L429.80,65.65 L431.03,64.06 L432.36,62.57 L433.78,61.20 L435.30,59.94 L436.94,58.82 L438.68,57.84 L440.50,57.01 L442.40,56.35 L444.34,55.87 L446.32,55.58 L448.31,55.50 L450.30,55.61 L452.28,55.93 L454.25,56.42 L456.20,57.08 L458.12,57.88 L460.01,58.81 L461.86,59.86 L463.67,61.01 L465.42,62.24 L467.12,63.55 L468.75,64.91 L470.32,66.32 L471.84,67.77 L473.30,69.27 L474.72,70.82 L476.08,72.40 L477.41,74.02 L478.70,75.66 L479.96,77.34 L481.18,79.04 L482.38,80.76 L483.56,82.50 L484.71,84.26 L485.85,86.02 L486.98,87.80 L488.10,89.58 L489.22,91.36 L490.33,93.15 L491.44,94.93 L492.56,96.70 L493.67,98.48 L494.79,100.25 L495.90,102.02 L497.01,103.79 L498.13,105.56 L499.23,107.32 L500.34,109.09 L501.45,110.86 L502.55,112.63 L503.65,114.40 L504.74,116.17 L505.83,117.94 L506.92,119.71 L508.00,121.49 L509.08,123.27 L510.15,125.05 L511.21,126.83 L512.27,128.62 L513.33,130.41 L514.37,132.21 L515.41,134.01 L516.44,135.82 L517.46,137.63 L518.47,139.45 L519.48,141.27 L520.48,143.10 L521.47,144.93 L522.45,146.77 L523.43,148.62 L524.40,150.46 L525.36,152.32 L526.31,154.17 L527.26,156.03 L528.21,157.90 L529.14,159.77 L530.07,161.64 L531.00,163.51 L531.92,165.39 L532.84,167.27 L533.75,169.15 L534.66,171.04 L535.56,172.93 L536.46,174.82 L537.36,176.71 L538.25,178.61 L539.14,180.51 L540.02,182.40 L540.90,184.30 L541.78,186.20 L542.66,188.11 L543.54,190.01 L544.41,191.91 L545.28,193.82 L546.15,195.72 L547.02,197.63 L547.89,199.53 L548.75,201.43 L549.62,203.34 L550.49,205.24 L551.35,207.14 L552.22,209.05 L553.08,210.95 L553.95,212.85 L554.82,214.74 L555.69,216.64 L556.56,218.54 L557.43,220.43 L558.30,222.32 L559.18,224.21 L560.05,226.09 L560.93,227.98 L561.81,229.86 L562.70,231.73 L563.59,233.61 L564.48,235.48" fill="none" stroke="#3a55b8" stroke-width="1.25"/>
<path d="M412.42,235.50 L412.59,233.49 L412.77,231.47 L412.96,229.45 L413.16,227.43 L413.36,225.42 L413.57,223.40 L413.78,221.39 L414.00,219.37 L414.23,217.36 L414.47,215.35 L414.71,213.34 L414.96,211.33 L415.21,209.32 L415.47,207.31 L415.74,205.30 L416.01,203.30 L416.29,201.29 L416.58,199.29 L416.87,197.28 L417.16,195.28 L417.47,193.27 L417.77,191.27 L418.09,189.27 L418.41,187.27 L418.73,185.27 L419.06,183.27 L419.39,181.27 L419.73,179.28 L420.08,177.28 L420.42,175.29 L420.78,173.29 L421.14,171.30 L421.50,169.30 L421.87,167.31 L422.24,165.32 L422.61,163.33 L422.99,161.34 L423.38,159.35 L423.77,157.36 L424.16,155.38 L424.55,153.39 L424.95,151.40 L425.36,149.42 L425.76,147.43 L426.17,145.45 L426.59,143.47 L427.00,141.49 L427.42,139.50 L427.85,137.52 L428.28,135.54 L428.71,133.57 L429.15,131.59 L429.59,129.62 L430.05,127.65 L430.52,125.68 L431.00,123.72 L431.49,121.76 L432.00,119.80 L432.52,117.85 L433.06,115.91 L433.62,113.97 L434.20,112.04 L434.81,110.12 L435.43,108.20 L436.08,106.29 L436.75,104.39 L437.46,102.50 L438.19,100.61 L438.95,98.74 L439.74,96.88 L440.56,95.02 L441.42,93.18 L442.31,91.35 L443.24,89.53 L444.20,87.72 L445.21,85.93 L446.26,84.15 L447.34,82.38 L448.47,80.63 L449.65,78.89 L450.87,77.18 L452.15,75.52 L453.47,73.91 L454.85,72.36 L456.28,70.89 L457.77,69.52 L459.32,68.25 L460.94,67.09 L462.61,66.07 L464.36,65.19 L466.17,64.45 L468.03,63.88 L469.92,63.47 L471.84,63.23 L473.78,63.17 L475.72,63.28 L477.66,63.56 L479.59,63.99 L481.50,64.57 L483.40,65.28 L485.27,66.12 L487.10,67.07 L488.90,68.12 L490.64,69.27 L492.34,70.50 L493.98,71.80 L495.55,73.17 L497.06,74.58 L498.50,76.04 L499.88,77.54 L501.22,79.08 L502.52,80.64 L503.78,82.22 L505.02,83.83 L506.25,85.44 L507.46,87.06 L508.66,88.69 L509.86,90.32 L511.05,91.96 L512.23,93.61 L513.40,95.26 L514.56,96.91 L515.71,98.58 L516.86,100.24 L518.00,101.92 L519.13,103.60 L520.25,105.28 L521.36,106.97 L522.47,108.66 L523.56,110.36 L524.65,112.07 L525.74,113.77 L526.81,115.49 L527.88,117.21 L528.94,118.93 L530.00,120.66 L531.04,122.39 L532.08,124.12 L533.11,125.86 L534.14,127.61 L535.16,129.36 L536.17,131.11 L537.18,132.87 L538.18,134.63 L539.17,136.39 L540.16,138.16 L541.14,139.93 L542.11,141.70 L543.08,143.48 L544.04,145.26 L545.00,147.05 L545.95,148.84 L546.89,150.63 L547.83,152.42 L548.76,154.22 L549.69,156.02 L550.62,157.82 L551.53,159.62 L552.44,161.43 L553.35,163.24 L554.25,165.05 L555.15,166.87 L556.04,168.69 L556.93,170.51 L557.81,172.33 L558.68,174.16 L559.55,175.98 L560.42,177.81 L561.28,179.65 L562.14,181.48 L562.99,183.32 L563.84,185.16 L564.68,187.00 L565.52,188.85 L566.35,190.69 L567.18,192.54 L568.00,194.39 L568.82,196.24 L569.64,198.10 L570.45,199.95 L571.26,201.81 L572.06,203.67 L572.86,205.53 L573.65,207.40 L574.44,209.26 L575.23,211.13 L576.01,213.00 L576.79,214.87 L577.57,216.74 L578.34,218.61 L579.10,220.49 L579.87,222.36 L580.63,224.24 L581.38,226.12 L582.14,228.00 L582.89,229.88 L583.63,231.77 L584.37,233.65 L585.11,235.54" fill="none" stroke="#2ba04a" stroke-width="1.25"/>
<path d="M434.22,235.50 L434.44,234.00 L434.67,232.49 L434.90,230.99 L435.15,229.50 L435.42,228.00 L435.69,226.50 L435.97,225.01 L436.26,223.52 L436.56,222.02 L436.87,220.53 L437.19,219.05 L437.52,217.56 L437.86,216.07 L438.21,214.59 L438.57,213.11 L438.93,211.62 L439.30,210.14 L439.68,208.67 L440.07,207.19 L440.47,205.72 L440.87,204.24 L441.28,202.77 L441.70,201.30 L442.13,199.84 L442.56,198.37 L442.99,196.91 L443.44,195.44 L443.89,193.98 L444.34,192.53 L444.80,191.07 L445.27,189.62 L445.74,188.16 L446.21,186.71 L446.69,185.27 L447.18,183.82 L447.67,182.38 L448.16,180.93 L448.65,179.50 L449.15,178.06 L449.66,176.62 L450.16,175.19 L450.67,173.76 L451.18,172.33 L451.70,170.91 L452.22,169.48 L452.74,168.07 L453.27,166.65 L453.80,165.24 L454.34,163.83 L454.89,162.42 L455.45,161.02 L456.02,159.62 L456.60,158.23 L457.19,156.84 L457.80,155.46 L458.42,154.09 L459.05,152.72 L459.70,151.36 L460.37,150.00 L461.06,148.65 L461.76,147.31 L462.49,145.97 L463.23,144.64 L464.00,143.32 L464.79,142.01 L465.60,140.71 L466.44,139.41 L467.30,138.13 L468.19,136.85 L469.11,135.58 L470.06,134.33 L471.03,133.08 L472.04,131.85 L473.07,130.64 L474.13,129.45 L475.22,128.28 L476.34,127.16 L477.49,126.06 L478.66,125.02 L479.86,124.02 L481.08,123.07 L482.33,122.18 L483.60,121.36 L484.90,120.60 L486.23,119.91 L487.57,119.30 L488.94,118.78 L490.33,118.34 L491.75,117.99 L493.18,117.73 L494.64,117.56 L496.10,117.48 L497.58,117.47 L499.06,117.54 L500.55,117.69 L502.04,117.90 L503.53,118.17 L505.01,118.50 L506.48,118.88 L507.93,119.32 L509.38,119.80 L510.80,120.32 L512.20,120.88 L513.58,121.47 L514.95,122.11 L516.29,122.78 L517.61,123.48 L518.92,124.22 L520.21,124.99 L521.48,125.79 L522.73,126.62 L523.96,127.48 L525.18,128.36 L526.38,129.28 L527.57,130.22 L528.74,131.18 L529.89,132.17 L531.03,133.18 L532.16,134.22 L533.27,135.27 L534.37,136.34 L535.45,137.43 L536.53,138.54 L537.59,139.67 L538.63,140.81 L539.67,141.96 L540.69,143.13 L541.71,144.30 L542.71,145.49 L543.70,146.69 L544.68,147.90 L545.66,149.11 L546.62,150.33 L547.58,151.56 L548.52,152.79 L549.46,154.02 L550.39,155.26 L551.32,156.50 L552.24,157.73 L553.15,158.97 L554.05,160.21 L554.95,161.45 L555.84,162.70 L556.72,163.94 L557.60,165.18 L558.47,166.43 L559.34,167.68 L560.20,168.92 L561.05,170.17 L561.90,171.42 L562.75,172.68 L563.59,173.93 L564.42,175.19 L565.25,176.44 L566.07,177.70 L566.89,178.96 L567.70,180.23 L568.51,181.49 L569.32,182.76 L570.12,184.03 L570.92,185.30 L571.71,186.57 L572.50,187.85 L573.28,189.12 L574.06,190.40 L574.84,191.69 L575.62,192.97 L576.39,194.26 L577.16,195.55 L577.93,196.84 L578.69,198.13 L579.45,199.43 L580.21,200.73 L580.96,202.04 L581.72,203.34 L582.47,204.65 L583.22,205.96 L583.97,207.28 L584.71,208.60 L585.46,209.92 L586.20,211.24 L586.94,212.57 L587.68,213.90 L588.42,215.24 L589.16,216.57 L589.90,217.91 L590.63,219.26 L591.37,220.61 L592.11,221.96 L592.84,223.32 L593.58,224.68 L594.31,226.04 L595.05,227.41 L595.78,228.78 L596.52,230.15 L597.26,231.53 L598.00,232.92 L598.73,234.31 L599.47,235.70" fill="none" stroke="#a44fb6" stroke-width="1.25"/>
<path d="M449.98,235.38 L450.40,234.26 L450.81,233.14 L451.22,232.02 L451.64,230.90 L452.05,229.78 L452.46,228.65 L452.87,227.53 L453.28,226.41 L453.69,225.29 L454.10,224.16 L454.52,223.04 L454.93,221.92 L455.34,220.79 L455.76,219.67 L456.18,218.54 L456.60,217.42 L457.02,216.30 L457.44,215.17 L457.87,214.05 L458.30,212.93 L458.73,211.80 L459.17,210.68 L459.60,209.56 L460.04,208.44 L460.49,207.31 L460.94,206.19 L461.39,205.07 L461.85,203.95 L462.31,202.83 L462.77,201.71 L463.24,200.60 L463.72,199.48 L464.20,198.36 L464.69,197.25 L465.18,196.13 L465.68,195.02 L466.18,193.90 L466.69,192.79 L467.20,191.68 L467.73,190.57 L468.26,189.46 L468.79,188.35 L469.34,187.25 L469.89,186.14 L470.45,185.04 L471.02,183.94 L471.59,182.84 L472.18,181.76 L472.78,180.67 L473.39,179.60 L474.01,178.53 L474.65,177.47 L475.29,176.42 L475.96,175.38 L476.63,174.35 L477.32,173.34 L478.03,172.34 L478.75,171.35 L479.49,170.38 L480.24,169.42 L481.02,168.49 L481.81,167.56 L482.62,166.66 L483.45,165.78 L484.30,164.92 L485.17,164.08 L486.06,163.26 L486.97,162.46 L487.89,161.69 L488.83,160.94 L489.79,160.22 L490.76,159.53 L491.75,158.86 L492.75,158.22 L493.77,157.61 L494.80,157.02 L495.85,156.47 L496.91,155.95 L497.98,155.46 L499.07,155.01 L500.17,154.59 L501.28,154.20 L502.40,153.85 L503.53,153.53 L504.67,153.26 L505.82,153.02 L506.98,152.81 L508.15,152.64 L509.32,152.51 L510.50,152.41 L511.68,152.35 L512.87,152.33 L514.05,152.33 L515.24,152.37 L516.43,152.44 L517.62,152.55 L518.80,152.69 L519.99,152.86 L521.16,153.05 L522.34,153.28 L523.50,153.54 L524.66,153.83 L525.82,154.15 L526.96,154.50 L528.10,154.87 L529.23,155.27 L530.35,155.70 L531.47,156.15 L532.57,156.62 L533.68,157.12 L534.77,157.64 L535.85,158.18 L536.93,158.75 L538.00,159.33 L539.07,159.93 L540.12,160.56 L541.17,161.20 L542.21,161.86 L543.24,162.53 L544.27,163.22 L545.29,163.93 L546.30,164.65 L547.30,165.38 L548.29,166.13 L549.28,166.89 L550.25,167.66 L551.22,168.44 L552.19,169.23 L553.14,170.03 L554.09,170.84 L555.03,171.66 L555.96,172.48 L556.88,173.31 L557.79,174.15 L558.70,174.99 L559.60,175.83 L560.49,176.68 L561.37,177.53 L562.24,178.38 L563.11,179.24 L563.97,180.10 L564.82,180.96 L565.66,181.83 L566.50,182.70 L567.33,183.58 L568.16,184.46 L568.97,185.34 L569.79,186.23 L570.59,187.11 L571.39,188.01 L572.18,188.90 L572.97,189.80 L573.75,190.70 L574.53,191.61 L575.30,192.52 L576.07,193.43 L576.83,194.35 L577.59,195.26 L578.34,196.19 L579.09,197.11 L579.83,198.04 L580.57,198.97 L581.31,199.91 L582.04,200.84 L582.77,201.79 L583.49,202.73 L584.22,203.68 L584.94,204.63 L585.65,205.58 L586.36,206.54 L587.07,207.50 L587.78,208.46 L588.49,209.42 L589.19,210.39 L589.89,211.36 L590.59,212.34 L591.29,213.31 L591.99,214.29 L592.68,215.28 L593.38,216.26 L594.07,217.25 L594.76,218.24 L595.45,219.24 L596.14,220.24 L596.83,221.24 L597.52,222.24 L598.21,223.25 L598.90,224.25 L599.59,225.26 L600.28,226.28 L600.97,227.30 L601.67,228.31 L602.36,229.34 L603.05,230.36 L603.75,231.39 L604.44,232.42 L605.14,233.45 L605.84,234.49 L606.54,235.52" fill="none" stroke="#127272" stroke-width="1.25"/>
<path d="M464.42,235.47 L464.86,234.12 L465.31,232.78 L465.77,231.44 L466.23,230.10 L466.70,228.77 L467.17,227.45 L467.65,226.12 L468.14,224.80 L468.63,223.48 L469.13,222.17 L469.63,220.86 L470.14,219.55 L470.65,218.25 L471.17,216.95 L471.70,215.65 L472.22,214.35 L472.76,213.06 L473.30,211.76 L473.84,210.47 L474.39,209.18 L474.94,207.90 L475.50,206.61 L476.06,205.33 L476.63,204.05 L477.20,202.77 L477.77,201.49 L478.35,200.21 L478.93,198.94 L479.51,197.66 L480.10,196.39 L480.69,195.11 L481.29,193.84 L481.89,192.56 L482.49,191.29 L483.09,190.02 L483.70,188.74 L484.31,187.47 L484.92,186.20 L485.54,184.93 L486.17,183.66 L486.80,182.39 L487.44,181.13 L488.09,179.87 L488.75,178.62 L489.43,177.37 L490.12,176.13 L490.83,174.90 L491.56,173.68 L492.30,172.48 L493.07,171.28 L493.85,170.09 L494.66,168.92 L495.50,167.76 L496.36,166.62 L497.24,165.49 L498.15,164.38 L499.08,163.29 L500.04,162.22 L501.01,161.16 L502.01,160.12 L503.02,159.11 L504.06,158.11 L505.11,157.14 L506.19,156.18 L507.28,155.25 L508.39,154.35 L509.51,153.47 L510.65,152.61 L511.81,151.78 L512.98,150.97 L514.17,150.19 L515.37,149.44 L516.58,148.72 L517.81,148.03 L519.05,147.37 L520.29,146.74 L521.55,146.14 L522.82,145.57 L524.10,145.03 L525.39,144.53 L526.68,144.07 L527.98,143.63 L529.29,143.24 L530.61,142.88 L531.93,142.55 L533.26,142.27 L534.59,142.02 L535.92,141.81 L537.26,141.64 L538.60,141.51 L539.94,141.43 L541.28,141.38 L542.63,141.38 L543.97,141.42 L545.32,141.51 L546.66,141.64 L548.00,141.82 L549.34,142.04 L550.67,142.31 L552.00,142.63 L553.33,142.99 L554.65,143.40 L555.97,143.86 L557.29,144.36 L558.59,144.89 L559.89,145.47 L561.19,146.08 L562.48,146.72 L563.76,147.39 L565.04,148.09 L566.31,148.81 L567.57,149.56 L568.83,150.33 L570.07,151.12 L571.31,151.93 L572.54,152.74 L573.76,153.57 L574.98,154.41 L576.18,155.26 L577.37,156.11 L578.56,156.97 L579.73,157.82 L580.90,158.68 L582.06,159.54 L583.21,160.39 L584.35,161.25 L585.48,162.11 L586.61,162.97 L587.74,163.83 L588.85,164.69 L589.97,165.55 L591.08,166.41 L592.18,167.27 L593.28,168.13 L594.38,168.99 L595.47,169.85 L596.56,170.71 L597.65,171.57 L598.73,172.44 L599.80,173.31 L600.87,174.18 L601.94,175.06 L603.00,175.94 L604.06,176.83 L605.11,177.72 L606.16,178.62 L607.20,179.53 L608.24,180.44 L609.27,181.36 L610.30,182.29 L611.33,183.23 L612.34,184.18 L613.36,185.13 L614.36,186.10 L615.37,187.07 L616.36,188.06 L617.36,189.05 L618.34,190.05 L619.32,191.05 L620.30,192.07 L621.27,193.09 L622.23,194.12 L623.19,195.16 L624.14,196.20 L625.08,197.25 L626.02,198.31 L626.96,199.38 L627.88,200.45 L628.81,201.53 L629.72,202.61 L630.63,203.70 L631.53,204.80 L632.43,205.90 L633.32,207.00 L634.20,208.12 L635.07,209.23 L635.94,210.36 L636.81,211.48 L637.66,212.62 L638.51,213.75 L639.35,214.90 L640.18,216.04 L641.01,217.19 L641.83,218.34 L642.64,219.50 L643.45,220.66 L644.25,221.83 L645.04,222.99 L645.82,224.16 L646.60,225.34 L647.37,226.51 L648.13,227.69 L648.88,228.87 L649.62,230.06 L650.36,231.24 L651.09,232.43 L651.81,233.62 L652.52,234.81 L653.23,236.00" fill="none" stroke="#8a1c1c" stroke-width="1.25"/>
<path d="M399.68,236.01 L399.64,233.55 L399.62,231.08 L399.61,228.62 L399.61,226.15 L399.63,223.69 L399.67,221.23 L399.71,218.77 L399.78,216.31 L399.85,213.85 L399.94,211.39 L400.05,208.93 L400.16,206.47 L400.29,204.01 L400.44,201.56 L400.59,199.10 L400.76,196.65 L400.94,194.19 L401.13,191.74 L401.34,189.29 L401.55,186.84 L401.78,184.39 L402.02,181.94 L402.28,179.49 L402.54,177.05 L402.81,174.60 L403.10,172.16 L403.39,169.72 L403.70,167.28 L404.02,164.84 L404.34,162.40 L404.68,159.96 L405.03,157.52 L405.39,155.09 L405.75,152.66 L406.13,150.23 L406.51,147.80 L406.91,145.37 L407.31,142.94 L407.72,140.52 L408.14,138.09 L408.57,135.67 L409.01,133.25 L409.46,130.83 L409.91,128.42 L410.37,126.00 L410.84,123.59 L411.32,121.18 L411.80,118.77 L412.29,116.36 L412.79,113.96 L413.29,111.55 L413.80,109.15 L414.32,106.75 L414.85,104.36 L415.39,101.97 L415.94,99.58 L416.52,97.20 L417.12,94.83 L417.74,92.46 L418.39,90.11 L419.07,87.76 L419.79,85.43 L420.54,83.11 L421.33,80.80 L422.17,78.50 L423.05,76.22 L423.98,73.96 L424.96,71.71 L426.00,69.48 L427.09,67.27 L428.25,65.08 L429.46,62.91 L430.75,60.76 L432.11,58.63 L433.53,56.54 L435.03,54.48 L436.60,52.47 L438.23,50.53 L439.93,48.67 L441.69,46.90 L443.52,45.24 L445.40,43.69 L447.35,42.27 L449.35,41.00 L451.41,39.88 L453.52,38.93 L455.68,38.16 L457.90,37.58 L460.16,37.22 L462.48,37.07 L464.84,37.15 L467.23,37.45 L469.65,37.94 L472.07,38.61 L474.48,39.43 L476.87,40.37 L479.23,41.42 L481.54,42.55 L483.78,43.75 L485.96,44.99 L488.09,46.28 L490.16,47.61 L492.19,48.97 L494.19,50.37 L496.16,51.79 L498.10,53.24 L500.02,54.72 L501.91,56.22 L503.78,57.75 L505.63,59.31 L507.45,60.90 L509.25,62.52 L511.02,64.17 L512.77,65.85 L514.49,67.57 L516.19,69.31 L517.87,71.08 L519.55,72.86 L521.21,74.65 L522.87,76.44 L524.54,78.23 L526.21,80.00 L527.90,81.76 L529.59,83.51 L531.27,85.25 L532.95,87.00 L534.60,88.77 L536.23,90.56 L537.82,92.38 L539.37,94.24 L540.89,96.13 L542.38,98.04 L543.85,99.98 L545.30,101.94 L546.74,103.91 L548.17,105.89 L549.60,107.88 L551.01,109.88 L552.43,111.89 L553.83,113.90 L555.23,115.92 L556.63,117.94 L558.03,119.97 L559.43,122.00 L560.83,124.02 L562.23,126.05 L563.63,128.07 L565.04,130.09 L566.45,132.11 L567.86,134.13 L569.27,136.14 L570.69,138.16 L572.10,140.17 L573.51,142.18 L574.93,144.19 L576.34,146.20 L577.75,148.22 L579.16,150.23 L580.57,152.25 L581.97,154.27 L583.37,156.29 L584.77,158.31 L586.16,160.34 L587.54,162.37 L588.92,164.40 L590.29,166.44 L591.66,168.48 L593.02,170.53 L594.37,172.58 L595.71,174.64 L597.05,176.70 L598.38,178.76 L599.71,180.83 L601.03,182.91 L602.34,184.99 L603.64,187.07 L604.94,189.16 L606.24,191.25 L607.52,193.34 L608.80,195.44 L610.07,197.55 L611.34,199.65 L612.60,201.77 L613.86,203.88 L615.10,206.00 L616.35,208.12 L617.58,210.25 L618.81,212.38 L620.04,214.51 L621.26,216.65 L622.47,218.79 L623.67,220.93 L624.88,223.08 L626.07,225.23 L627.26,227.38 L628.44,229.54 L629.62,231.70 L630.80,233.86 L631.96,236.02" fill="none" stroke="#ee2a24" stroke-width="1.3" stroke-dasharray="3.3,2.7"/>
<path d="M399.73,236.00 L399.67,233.47 L399.63,230.94 L399.61,228.41 L399.60,225.88 L399.61,223.34 L399.63,220.81 L399.67,218.28 L399.73,215.75 L399.80,213.21 L399.89,210.68 L399.99,208.15 L400.11,205.62 L400.24,203.09 L400.38,200.56 L400.54,198.03 L400.71,195.50 L400.90,192.97 L401.10,190.45 L401.32,187.92 L401.54,185.40 L401.78,182.87 L402.03,180.35 L402.30,177.83 L402.57,175.31 L402.86,172.79 L403.16,170.27 L403.48,167.75 L403.80,165.24 L404.13,162.72 L404.48,160.21 L404.84,157.70 L405.20,155.19 L405.58,152.69 L405.97,150.18 L406.37,147.68 L406.77,145.18 L407.19,142.68 L407.62,140.18 L408.05,137.69 L408.50,135.19 L408.95,132.70 L409.41,130.22 L409.88,127.73 L410.36,125.25 L410.84,122.77 L411.33,120.29 L411.84,117.81 L412.34,115.34 L412.86,112.87 L413.38,110.41 L413.91,107.94 L414.45,105.48 L415.01,103.03 L415.59,100.58 L416.19,98.14 L416.82,95.71 L417.47,93.28 L418.15,90.87 L418.87,88.46 L419.62,86.07 L420.41,83.69 L421.25,81.32 L422.13,78.96 L423.06,76.62 L424.05,74.29 L425.09,71.98 L426.18,69.68 L427.34,67.40 L428.57,65.14 L429.86,62.90 L431.22,60.68 L432.65,58.48 L434.16,56.30 L435.74,54.17 L437.40,52.10 L439.12,50.11 L440.90,48.20 L442.75,46.40 L444.67,44.73 L446.64,43.19 L448.67,41.81 L450.76,40.60 L452.90,39.57 L455.10,38.75 L457.34,38.14 L459.63,37.76 L461.97,37.64 L464.35,37.78 L466.76,38.17 L469.20,38.78 L471.65,39.58 L474.10,40.54 L476.53,41.62 L478.93,42.81 L481.29,44.05 L483.60,45.33 L485.85,46.63 L488.04,47.96 L490.19,49.31 L492.28,50.68 L494.34,52.10 L496.35,53.54 L498.32,55.03 L500.27,56.56 L502.18,58.14 L504.06,59.76 L505.92,61.42 L507.76,63.11 L509.57,64.84 L511.37,66.59 L513.15,68.37 L514.91,70.16 L516.66,71.97 L518.40,73.79 L520.13,75.61 L521.85,77.42 L523.59,79.23 L525.35,81.01 L527.15,82.75 L528.97,84.47 L530.82,86.16 L532.67,87.85 L534.51,89.55 L536.35,91.25 L538.19,92.96 L540.02,94.68 L541.84,96.41 L543.66,98.14 L545.47,99.89 L547.27,101.64 L549.07,103.39 L550.86,105.16 L552.65,106.94 L554.42,108.72 L556.19,110.51 L557.95,112.31 L559.71,114.12 L561.45,115.94 L563.19,117.77 L564.92,119.61 L566.64,121.45 L568.35,123.31 L570.05,125.18 L571.75,127.05 L573.43,128.93 L575.11,130.83 L576.78,132.72 L578.44,134.63 L580.10,136.54 L581.76,138.46 L583.40,140.38 L585.05,142.31 L586.69,144.23 L588.33,146.17 L589.97,148.10 L591.60,150.03 L593.24,151.97 L594.87,153.90 L596.51,155.84 L598.15,157.77 L599.78,159.71 L601.42,161.64 L603.05,163.58 L604.69,165.51 L606.32,167.45 L607.95,169.39 L609.58,171.33 L611.21,173.27 L612.83,175.21 L614.45,177.16 L616.07,179.11 L617.68,181.06 L619.29,183.01 L620.89,184.97 L622.49,186.93 L624.08,188.90 L625.67,190.86 L627.25,192.84 L628.83,194.81 L630.40,196.80 L631.96,198.78 L633.52,200.78 L635.06,202.78 L636.60,204.78 L638.14,206.79 L639.66,208.81 L641.17,210.83 L642.68,212.86 L644.17,214.90 L645.66,216.94 L647.13,218.99 L648.59,221.05 L650.05,223.12 L651.49,225.20 L652.92,227.28 L654.34,229.38 L655.74,231.48 L657.13,233.59 L658.51,235.72" fill="none" stroke="#231f20" stroke-width="1.3" stroke-dasharray="3.3,2.7"/>
<line x1="550.64" x2="550.64" y1="108.10" y2="112.10" stroke="#ee2a24" stroke-width="1.3"/>
<line x1="556.88" x2="556.88" y1="115.00" y2="119.00" stroke="#ee2a24" stroke-width="1.3"/>
<line x1="563.11" x2="563.11" y1="129.60" y2="134.60" stroke="#ee2a24" stroke-width="1.3"/>
<line x1="569.35" x2="569.35" y1="134.80" y2="139.80" stroke="#ee2a24" stroke-width="1.3"/>
<line x1="575.58" x2="575.58" y1="140.80" y2="146.80" stroke="#ee2a24" stroke-width="1.3"/>
<line x1="581.82" x2="581.82" y1="150.80" y2="156.80" stroke="#ee2a24" stroke-width="1.3"/>
<line x1="588.05" x2="588.05" y1="162.10" y2="168.10" stroke="#ee2a24" stroke-width="1.3"/>
<line x1="594.28" x2="594.28" y1="166.00" y2="173.00" stroke="#ee2a24" stroke-width="1.3"/>
<line x1="600.52" x2="600.52" y1="176.10" y2="183.10" stroke="#ee2a24" stroke-width="1.3"/>
<line x1="606.75" x2="606.75" y1="189.00" y2="197.00" stroke="#ee2a24" stroke-width="1.3"/>
<line x1="612.99" x2="612.99" y1="206.70" y2="220.70" stroke="#ee2a24" stroke-width="1.3"/>
<line x1="619.23" x2="619.23" y1="206.70" y2="220.70" stroke="#ee2a24" stroke-width="1.3"/>
<line x1="625.46" x2="625.46" y1="217.40" y2="231.40" stroke="#ee2a24" stroke-width="1.3"/>
<circle cx="401.00" cy="198.20" r="2.4" fill="#ee2a24"/>
<circle cx="407.24" cy="144.40" r="2.4" fill="#ee2a24"/>
<circle cx="413.47" cy="110.30" r="2.4" fill="#ee2a24"/>
<circle cx="419.70" cy="89.60" r="2.4" fill="#ee2a24"/>
<circle cx="425.94" cy="69.10" r="2.4" fill="#ee2a24"/>
<circle cx="432.18" cy="59.40" r="2.4" fill="#ee2a24"/>
<circle cx="438.41" cy="49.10" r="2.4" fill="#ee2a24"/>
<circle cx="444.64" cy="44.10" r="2.4" fill="#ee2a24"/>
<circle cx="450.88" cy="40.40" r="2.4" fill="#ee2a24"/>
<circle cx="457.12" cy="37.40" r="2.4" fill="#ee2a24"/>
<circle cx="463.35" cy="37.20" r="2.4" fill="#ee2a24"/>
<circle cx="469.59" cy="37.40" r="2.4" fill="#ee2a24"/>
<circle cx="475.82" cy="39.50" r="2.4" fill="#ee2a24"/>
<circle cx="482.06" cy="43.60" r="2.4" fill="#ee2a24"/>
<circle cx="488.29" cy="47.00" r="2.4" fill="#ee2a24"/>
<circle cx="494.52" cy="50.70" r="2.4" fill="#ee2a24"/>
<circle cx="500.76" cy="55.10" r="2.4" fill="#ee2a24"/>
<circle cx="507.00" cy="59.50" r="2.4" fill="#ee2a24"/>
<circle cx="513.23" cy="67.30" r="2.4" fill="#ee2a24"/>
<circle cx="519.47" cy="71.80" r="2.4" fill="#ee2a24"/>
<circle cx="525.70" cy="80.90" r="2.4" fill="#ee2a24"/>
<circle cx="531.93" cy="85.90" r="2.4" fill="#ee2a24"/>
<circle cx="538.17" cy="91.00" r="2.4" fill="#ee2a24"/>
<circle cx="544.40" cy="102.60" r="2.4" fill="#ee2a24"/>
<circle cx="550.64" cy="110.10" r="2.4" fill="#ee2a24"/>
<circle cx="556.88" cy="117.00" r="2.4" fill="#ee2a24"/>
<circle cx="563.11" cy="132.10" r="2.4" fill="#ee2a24"/>
<circle cx="569.35" cy="137.30" r="2.4" fill="#ee2a24"/>
<circle cx="575.58" cy="143.80" r="2.4" fill="#ee2a24"/>
<circle cx="581.82" cy="153.80" r="2.4" fill="#ee2a24"/>
<circle cx="588.05" cy="165.10" r="2.4" fill="#ee2a24"/>
<circle cx="594.28" cy="169.50" r="2.4" fill="#ee2a24"/>
<circle cx="600.52" cy="179.60" r="2.4" fill="#ee2a24"/>
<circle cx="606.75" cy="193.00" r="2.4" fill="#ee2a24"/>
<circle cx="612.99" cy="213.70" r="2.4" fill="#ee2a24"/>
<circle cx="619.23" cy="213.70" r="2.4" fill="#ee2a24"/>
<circle cx="625.46" cy="224.40" r="2.4" fill="#ee2a24"/>
<line x1="550.64" x2="550.64" y1="101.20" y2="105.20" stroke="#231f20" stroke-width="1.3"/>
<line x1="556.88" x2="556.88" y1="111.90" y2="115.90" stroke="#231f20" stroke-width="1.3"/>
<line x1="563.11" x2="563.11" y1="115.70" y2="120.70" stroke="#231f20" stroke-width="1.3"/>
<line x1="569.35" x2="569.35" y1="121.40" y2="126.40" stroke="#231f20" stroke-width="1.3"/>
<line x1="575.58" x2="575.58" y1="132.40" y2="138.40" stroke="#231f20" stroke-width="1.3"/>
<line x1="581.82" x2="581.82" y1="134.80" y2="140.80" stroke="#231f20" stroke-width="1.3"/>
<line x1="588.05" x2="588.05" y1="135.60" y2="141.60" stroke="#231f20" stroke-width="1.3"/>
<line x1="594.28" x2="594.28" y1="148.80" y2="157.60" stroke="#231f20" stroke-width="1.3"/>
<line x1="600.52" x2="600.52" y1="156.40" y2="166.40" stroke="#231f20" stroke-width="1.3"/>
<line x1="606.75" x2="606.75" y1="162.40" y2="172.40" stroke="#231f20" stroke-width="1.3"/>
<line x1="612.99" x2="612.99" y1="174.70" y2="184.70" stroke="#231f20" stroke-width="1.3"/>
<line x1="619.23" x2="619.23" y1="174.10" y2="185.30" stroke="#231f20" stroke-width="1.3"/>
<line x1="625.46" x2="625.46" y1="186.20" y2="197.40" stroke="#231f20" stroke-width="1.3"/>
<line x1="631.70" x2="631.70" y1="186.20" y2="197.40" stroke="#231f20" stroke-width="1.3"/>
<line x1="637.93" x2="637.93" y1="202.30" y2="220.30" stroke="#231f20" stroke-width="1.3"/>
<line x1="644.16" x2="644.16" y1="202.30" y2="220.30" stroke="#231f20" stroke-width="1.3"/>
<line x1="650.40" x2="650.40" y1="223.60" y2="243.60" stroke="#231f20" stroke-width="1.3"/>
<line x1="656.63" x2="656.63" y1="223.60" y2="243.60" stroke="#231f20" stroke-width="1.3"/>
<rect x="398.60" y="197.50" width="4.8" height="4.8" fill="#231f20"/>
<rect x="404.84" y="137.20" width="4.8" height="4.8" fill="#231f20"/>
<rect x="411.07" y="110.20" width="4.8" height="4.8" fill="#231f20"/>
<rect x="417.31" y="85.70" width="4.8" height="4.8" fill="#231f20"/>
<rect x="423.54" y="67.50" width="4.8" height="4.8" fill="#231f20"/>
<rect x="429.78" y="57.00" width="4.8" height="4.8" fill="#231f20"/>
<rect x="436.01" y="48.20" width="4.8" height="4.8" fill="#231f20"/>
<rect x="442.25" y="42.00" width="4.8" height="4.8" fill="#231f20"/>
<rect x="448.48" y="38.30" width="4.8" height="4.8" fill="#231f20"/>
<rect x="454.72" y="35.30" width="4.8" height="4.8" fill="#231f20"/>
<rect x="460.95" y="35.30" width="4.8" height="4.8" fill="#231f20"/>
<rect x="467.19" y="36.00" width="4.8" height="4.8" fill="#231f20"/>
<rect x="473.42" y="38.30" width="4.8" height="4.8" fill="#231f20"/>
<rect x="479.66" y="42.80" width="4.8" height="4.8" fill="#231f20"/>
<rect x="485.89" y="46.40" width="4.8" height="4.8" fill="#231f20"/>
<rect x="492.12" y="50.10" width="4.8" height="4.8" fill="#231f20"/>
<rect x="498.36" y="54.50" width="4.8" height="4.8" fill="#231f20"/>
<rect x="504.60" y="58.90" width="4.8" height="4.8" fill="#231f20"/>
<rect x="510.83" y="66.70" width="4.8" height="4.8" fill="#231f20"/>
<rect x="517.07" y="71.20" width="4.8" height="4.8" fill="#231f20"/>
<rect x="523.30" y="80.30" width="4.8" height="4.8" fill="#231f20"/>
<rect x="529.53" y="85.30" width="4.8" height="4.8" fill="#231f20"/>
<rect x="535.77" y="90.40" width="4.8" height="4.8" fill="#231f20"/>
<rect x="542.00" y="97.00" width="4.8" height="4.8" fill="#231f20"/>
<rect x="548.24" y="100.80" width="4.8" height="4.8" fill="#231f20"/>
<rect x="554.48" y="111.50" width="4.8" height="4.8" fill="#231f20"/>
<rect x="560.71" y="115.80" width="4.8" height="4.8" fill="#231f20"/>
<rect x="566.95" y="121.50" width="4.8" height="4.8" fill="#231f20"/>
<rect x="573.18" y="133.00" width="4.8" height="4.8" fill="#231f20"/>
<rect x="579.42" y="135.40" width="4.8" height="4.8" fill="#231f20"/>
<rect x="585.65" y="136.20" width="4.8" height="4.8" fill="#231f20"/>
<rect x="591.88" y="150.80" width="4.8" height="4.8" fill="#231f20"/>
<rect x="598.12" y="159.00" width="4.8" height="4.8" fill="#231f20"/>
<rect x="604.36" y="165.00" width="4.8" height="4.8" fill="#231f20"/>
<rect x="610.59" y="177.30" width="4.8" height="4.8" fill="#231f20"/>
<rect x="616.83" y="177.30" width="4.8" height="4.8" fill="#231f20"/>
<rect x="623.06" y="189.40" width="4.8" height="4.8" fill="#231f20"/>
<rect x="629.30" y="189.40" width="4.8" height="4.8" fill="#231f20"/>
<rect x="635.53" y="208.90" width="4.8" height="4.8" fill="#231f20"/>
<rect x="641.76" y="208.90" width="4.8" height="4.8" fill="#231f20"/>
<rect x="648.00" y="231.20" width="4.8" height="4.8" fill="#231f20"/>
<rect x="654.24" y="231.20" width="4.8" height="4.8" fill="#231f20"/>
</g>
<line x1="398.0" x2="684.65" y1="339.55" y2="339.55" stroke="#231f20" stroke-width="1.25" stroke-dasharray="1.9,1.75"/>
<path d="M401.24,343.30 L402.12,342.68 L403.00,342.13 L403.90,341.63 L404.80,341.20 L405.72,340.82 L406.64,340.49 L407.57,340.21 L408.51,339.98 L409.45,339.80 L410.40,339.65 L411.36,339.54 L412.32,339.47 L413.28,339.42 L414.25,339.41 L415.22,339.42 L416.20,339.45 L417.17,339.51 L418.15,339.58 L419.12,339.66 L420.10,339.75 L421.08,339.85 L422.06,339.96 L423.04,340.07 L424.01,340.18 L424.99,340.29 L425.97,340.39 L426.95,340.48 L427.93,340.56 L428.91,340.63 L429.89,340.69 L430.87,340.73 L431.85,340.74 L432.83,340.74 L433.81,340.71 L434.79,340.67 L435.77,340.61 L436.75,340.54 L437.73,340.46 L438.70,340.37 L439.68,340.26 L440.66,340.16 L441.64,340.05 L442.61,339.93 L443.59,339.82 L444.57,339.71 L445.54,339.60 L446.52,339.49 L447.50,339.40 L448.47,339.31 L449.45,339.23 L450.42,339.17 L451.40,339.12 L452.38,339.08 L453.35,339.05 L454.33,339.03 L455.30,339.02 L456.28,339.02 L457.25,339.02 L458.23,339.04 L459.20,339.07 L460.18,339.10 L461.15,339.14 L462.13,339.19 L463.10,339.24 L464.08,339.30 L465.05,339.36 L466.03,339.43 L467.00,339.50 L467.98,339.58 L468.95,339.66 L469.93,339.75 L470.91,339.83 L471.88,339.92 L472.86,340.01 L473.83,340.11 L474.81,340.20 L475.79,340.29 L476.77,340.39 L477.74,340.48 L478.72,340.57 L479.70,340.67 L480.68,340.76 L481.65,340.84 L482.63,340.93 L483.61,341.01 L484.59,341.09 L485.57,341.17 L486.55,341.24 L487.53,341.30 L488.51,341.36 L489.49,341.42 L490.48,341.48 L491.46,341.53 L492.44,341.57 L493.42,341.61 L494.40,341.65 L495.38,341.68 L496.37,341.70 L497.35,341.72 L498.33,341.74 L499.31,341.75 L500.29,341.76 L501.28,341.76 L502.26,341.76 L503.24,341.75 L504.22,341.74 L505.20,341.72 L506.18,341.70 L507.16,341.67 L508.14,341.64 L509.12,341.60 L510.10,341.55 L511.08,341.50 L512.06,341.45 L513.03,341.39 L514.01,341.32 L514.99,341.25 L515.96,341.17 L516.94,341.09 L517.91,341.00 L518.89,340.91 L519.86,340.80 L520.83,340.70 L521.80,340.59 L522.77,340.47 L523.74,340.34 L524.71,340.21 L525.68,340.07 L526.65,339.93 L527.61,339.78 L528.58,339.63 L529.54,339.47 L530.51,339.30 L531.47,339.13 L532.43,338.95 L533.39,338.77 L534.35,338.58 L535.31,338.39 L536.27,338.19 L537.22,337.98 L538.18,337.77 L539.13,337.55 L540.08,337.33 L541.03,337.10 L541.98,336.87 L542.93,336.63 L543.88,336.38 L544.82,336.13 L545.77,335.88 L546.71,335.62 L547.65,335.35 L548.59,335.08 L549.53,334.80 L550.47,334.52 L551.40,334.23 L552.34,333.94 L553.27,333.64 L554.20,333.33 L555.13,333.02 L556.06,332.71 L556.99,332.39 L557.91,332.06 L558.83,331.74 L559.76,331.40 L560.68,331.06 L561.59,330.71 L562.51,330.36 L563.42,330.01 L564.34,329.65 L565.25,329.28 L566.16,328.91 L567.06,328.54 L567.97,328.16 L568.87,327.77 L569.77,327.38 L570.67,326.99 L571.57,326.59 L572.47,326.18 L573.36,325.77 L574.25,325.36 L575.14,324.94 L576.03,324.52 L576.92,324.09 L577.80,323.66 L578.68,323.22 L579.56,322.78 L580.44,322.33 L581.31,321.88 L582.18,321.42 L583.05,320.96 L583.92,320.50 L584.79,320.03 L585.65,319.55 L586.51,319.08 L587.37,318.59 L588.23,318.11 L589.08,317.61 L589.93,317.12 L590.78,316.62 L591.63,316.11 L592.47,315.60 L593.31,315.09 L594.15,314.57 L594.99,314.05 L595.82,313.53 L596.65,312.99 L597.48,312.46 L598.31,311.92 L599.13,311.38 L599.95,310.83 L600.77,310.28 L601.58,309.73 L602.40,309.17 L603.21,308.60 L604.01,308.04 L604.82,307.47 L605.62,306.89 L606.42,306.31 L607.21,305.73 L608.00,305.14 L608.79,304.55 L609.58,303.96 L610.36,303.36 L611.14,302.76 L611.92,302.15 L612.70,301.54 L613.47,300.93 L614.24,300.31 L615.00,299.69 L615.76,299.07 L616.52,298.44 L617.28,297.81 L618.03,297.17 L618.78,296.53 L619.53,295.89 L620.27,295.25 L621.01,294.60 L621.75,293.94 L622.48,293.29 L623.21,292.63 L623.94,291.96 L624.66,291.30 L625.38,290.63 L626.10,289.95 L626.81,289.28 L627.52,288.60 L628.22,287.91 L628.93,287.23 L629.63,286.54 L630.32,285.85 L631.01,285.15 L631.70,284.45 L632.38,283.75 L633.07,283.04 L633.74,282.33 L634.42,281.62 L635.09,280.91 L635.75,280.19 L636.41,279.47 L637.07,278.74 L637.73,278.02 L638.38,277.29 L639.02,276.55 L639.67,275.82 L640.31,275.08 L640.94,274.34 L641.57,273.59 L642.20,272.85 L642.82,272.10 L643.44,271.34 L644.06,270.59 L644.67,269.83 L645.28,269.07 L645.88,268.30 L646.48,267.54 L647.07,266.77 L647.67,266.00 L648.25,265.22 L648.83,264.45 L649.41,263.67 L649.99,262.88 L650.56,262.10 L651.12,261.31 L651.68,260.52 L652.24,259.73 L652.79,258.94 L653.34,258.14 L653.88,257.34 L654.42,256.54 L654.96,255.74 L655.49,254.93 L656.01,254.12 L656.53,253.31 L657.05,252.50 L657.56,251.68 L658.07,250.87 L658.57,250.05 L659.07,249.23 L659.57,248.40" fill="none" stroke="#231f20" stroke-width="1.5"/>
<rect x="398.0" y="5.85" width="286.65" height="348.45" fill="none" stroke="#231f20" stroke-width="1.45"/>
<line x1="398.0" x2="684.65" y1="235.56" y2="235.56" stroke="#231f20" stroke-width="1.45"/>
<path d="M399.30,235.56v-6.9M399.50,354.3v-4.8M414.90,235.56v-3.4M415.25,354.3v-2.3M430.50,235.56v-3.4M431.00,354.3v-2.3M446.10,235.56v-3.4M446.75,354.3v-2.3M461.70,235.56v-6.9M462.50,354.3v-4.8M477.30,235.56v-3.4M478.25,354.3v-2.3M492.90,235.56v-3.4M494.00,354.3v-2.3M508.50,235.56v-3.4M509.75,354.3v-2.3M524.10,235.56v-6.9M525.50,354.3v-4.8M539.70,235.56v-3.4M541.25,354.3v-2.3M555.30,235.56v-3.4M557.00,354.3v-2.3M570.90,235.56v-3.4M572.75,354.3v-2.3M586.50,235.56v-6.9M588.50,354.3v-4.8M602.10,235.56v-3.4M604.25,354.3v-2.3M617.70,235.56v-3.4M620.00,354.3v-2.3M633.30,235.56v-3.4M635.75,354.3v-2.3M648.90,235.56v-6.9M651.50,354.3v-4.8M664.50,235.56v-3.4M667.25,354.3v-2.3M680.10,235.56v-3.4M683.00,354.3v-2.3M398.0,213.52h3.6M398.0,199.96h3.6M398.0,190.34h3.6M398.0,182.88h3.6M398.0,176.78h3.6M398.0,171.63h3.6M398.0,167.16h3.6M398.0,163.22h3.6M398.0,159.70h7.0M398.0,136.52h3.6M398.0,122.96h3.6M398.0,113.34h3.6M398.0,105.88h3.6M398.0,99.78h3.6M398.0,94.63h3.6M398.0,90.16h3.6M398.0,86.22h3.6M398.0,82.70h7.0M398.0,59.52h3.6M398.0,45.96h3.6M398.0,36.34h3.6M398.0,28.88h3.6M398.0,22.78h3.6M398.0,17.63h3.6M398.0,13.16h3.6M398.0,9.22h3.6M398.0,351.11h2.7M398.0,345.21h2.7M398.0,339.30h5.2M398.0,333.39h2.7M398.0,327.49h2.7M398.0,321.58h2.7M398.0,315.68h2.7M398.0,309.77h5.2M398.0,303.86h2.7M398.0,297.96h2.7M398.0,292.05h2.7M398.0,286.15h2.7M398.0,280.24h5.2M398.0,274.33h2.7M398.0,268.43h2.7M398.0,262.52h2.7M398.0,256.62h2.7M398.0,250.71h5.2M398.0,244.80h2.7M398.0,238.90h2.7" stroke="#231f20" stroke-width="1.2" fill="none"/>
<text x="395.97" y="366.60" font-size="13.5" textLength="7.06" lengthAdjust="spacingAndGlyphs">0</text>
<text x="455.44" y="366.60" font-size="13.5" textLength="14.12" lengthAdjust="spacingAndGlyphs">20</text>
<text x="518.44" y="366.60" font-size="13.5" textLength="14.12" lengthAdjust="spacingAndGlyphs">40</text>
<text x="581.44" y="366.60" font-size="13.5" textLength="14.12" lengthAdjust="spacingAndGlyphs">60</text>
<text x="644.44" y="366.60" font-size="13.5" textLength="14.12" lengthAdjust="spacingAndGlyphs">80</text>
<text x="374.48" y="255.61" font-size="13.4" textLength="21.02" lengthAdjust="spacingAndGlyphs">300</text>
<text x="374.48" y="285.14" font-size="13.4" textLength="21.02" lengthAdjust="spacingAndGlyphs">200</text>
<text x="374.48" y="314.67" font-size="13.4" textLength="21.02" lengthAdjust="spacingAndGlyphs">100</text>
<text x="388.49" y="344.20" font-size="13.4" textLength="7.01" lengthAdjust="spacingAndGlyphs">0</text>
<text x="371.35" y="12.20" font-size="13.7" textLength="13.60" lengthAdjust="spacingAndGlyphs">10</text>
<text class="mn" x="385.25" y="6.20" font-size="8.3">−</text>
<text x="390.35" y="5.90" font-size="8.8" textLength="4.40" lengthAdjust="spacingAndGlyphs">1</text>
<text x="371.35" y="89.20" font-size="13.7" textLength="13.60" lengthAdjust="spacingAndGlyphs">10</text>
<text class="mn" x="385.25" y="83.20" font-size="8.3">−</text>
<text x="390.35" y="82.90" font-size="8.8" textLength="4.40" lengthAdjust="spacingAndGlyphs">2</text>
<text x="371.35" y="166.20" font-size="13.7" textLength="13.60" lengthAdjust="spacingAndGlyphs">10</text>
<text class="mn" x="385.25" y="160.20" font-size="8.3">−</text>
<text x="390.35" y="159.90" font-size="8.8" textLength="4.40" lengthAdjust="spacingAndGlyphs">3</text>
<text transform="translate(365.00,6.00) rotate(-90)" x="-118.40" y="0" font-size="13.1" textLength="118.40" lengthAdjust="spacingAndGlyphs">Normalized events</text>
<text transform="translate(365.00,236.60) rotate(-90)" x="-82.30" y="0" font-size="13.2" textLength="82.30" lengthAdjust="spacingAndGlyphs">Deviation (%)</text>
<text x="554.15" y="383.40" font-size="13.0" textLength="110.00" lengthAdjust="spacingAndGlyphs">Muon multiplicity</text>
<text x="667.95" y="383.40" font-size="13.0" font-weight="normal" textLength="16.60" lengthAdjust="spacingAndGlyphs">(μ)</text>
<text x="594.10" y="28.00" font-size="11" textLength="15.40" lengthAdjust="spacingAndGlyphs">log</text>
<text x="610.50" y="34.30" font-size="8" textLength="7.80" lengthAdjust="spacingAndGlyphs">10</text>
<text x="621.70" y="28.00" font-size="11" textLength="7.30" lengthAdjust="spacingAndGlyphs">N</text>
<text x="629.20" y="30.20" font-size="7.5" textLength="3.10" lengthAdjust="spacingAndGlyphs">e</text>
<text x="633.10" y="28.00" font-size="11" textLength="47.30" lengthAdjust="spacingAndGlyphs">: 5.2 - 5.4</text>
<circle cx="604.80" cy="43.6" r="2.5" fill="#ee2a24"/>
<text x="615.10" y="46.70" font-size="9.3" textLength="18.90" lengthAdjust="spacingAndGlyphs">data</text>
<rect x="602.50" y="58.70" width="4.6" height="4.6" fill="#231f20"/>
<text x="615.10" y="64.20" font-size="9.3" textLength="45.80" lengthAdjust="spacingAndGlyphs">H4a model</text>
<line x1="595.40" x2="603.40" y1="77.60" y2="77.60" stroke="#3a55b8" stroke-width="1.2"/>
<text x="604.70" y="81.05" font-size="9.8" textLength="7.08" lengthAdjust="spacingAndGlyphs">H</text>
<line x1="637.60" x2="645.60" y1="77.60" y2="77.60" stroke="#2ba04a" stroke-width="1.2"/>
<text x="646.90" y="81.05" font-size="9.8" textLength="12.53" lengthAdjust="spacingAndGlyphs">He</text>
<line x1="595.40" x2="603.40" y1="93.60" y2="93.60" stroke="#a44fb6" stroke-width="1.2"/>
<text x="604.70" y="97.05" font-size="9.8" textLength="7.08" lengthAdjust="spacingAndGlyphs">N</text>
<line x1="637.60" x2="645.60" y1="93.60" y2="93.60" stroke="#127272" stroke-width="1.2"/>
<text x="646.90" y="97.05" font-size="9.8" textLength="9.80" lengthAdjust="spacingAndGlyphs">Al</text>
<line x1="595.40" x2="603.40" y1="109.60" y2="109.60" stroke="#8a1c1c" stroke-width="1.2"/>
<text x="604.70" y="113.05" font-size="9.8" textLength="11.44" lengthAdjust="spacingAndGlyphs">Fe</text>
</svg>
</body></html>
